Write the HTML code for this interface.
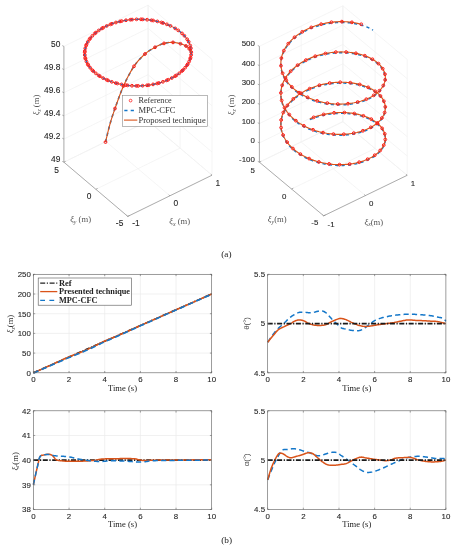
<!DOCTYPE html>
<html lang="en"><head><meta charset="utf-8"><title>Figure</title>
<style>
html,body{margin:0;padding:0;background:#fff}
svg{display:block}
.s{font-family:"Liberation Serif",serif}
</style></head><body>
<svg width="454" height="550" viewBox="0 0 454 550">
<rect width="454" height="550" fill="#fff"/>
<g font-family="Liberation Sans, sans-serif" fill="#262626" stroke="#262626" stroke-width="0">
<path d="M63.9 162.2 L148.1 121 L212 175.2 M63.9 139.04 L148.1 97.84 L212 152.04 M63.9 115.88 L148.1 74.68 L212 128.88 M63.9 92.72 L148.1 51.52 L212 105.72 M63.9 69.56 L148.1 28.36 L212 82.56 M63.9 46.4 L148.1 5.2 L212 59.4 M63.9 162.2 L63.9 46.4 M127.8 216.4 L63.9 162.2 M106 141.6 L106 25.8 M169.9 195.8 L106 141.6 M148.1 121 L148.1 5.2 M212 175.2 L148.1 121 M148.1 121 L148.1 5.2 M63.9 162.2 L148.1 121 M180.05 148.1 L180.05 32.3 M95.85 189.3 L180.05 148.1 M212 175.2 L212 59.4 M127.8 216.4 L212 175.2" fill="none" stroke="#f1f1f1" stroke-width="0.7"/>
<path d="M63.9 46.4 L63.9 162.2 L127.8 216.4 L212 175.2 M63.9 162.2 L62.3 161.4 M63.9 139.04 L62.3 138.24 M63.9 115.88 L62.3 115.08 M63.9 92.72 L62.3 91.92 M63.9 69.56 L62.3 68.76 M63.9 46.4 L62.3 45.6 M63.9 162.2 L65.7 161.3 M95.85 189.3 L97.65 188.4 M127.8 216.4 L129.6 215.5 M127.8 216.4 L126.6 215.4 M169.9 195.8 L168.7 194.8 M212 175.2 L210.8 174.2" fill="none" stroke="#858585" stroke-width="0.65"/>
<path d="M105.26 26.64 L107.51 25.58 L109.84 24.6 L112.24 23.7 L114.72 22.87 L117.26 22.13 L119.86 21.47 L122.51 20.89 L125.2 20.4 L127.92 20 L130.68 19.69 L133.45 19.47 L136.24 19.34 L139.03 19.3 L141.81 19.36 L144.59 19.5 L147.35 19.73 L150.08 20.06 L152.78 20.47 L155.44 20.97 L158.06 21.56 L160.61 22.24 L163.11 22.99 L165.53 23.83 L167.88 24.75 L170.15 25.74 L172.33 26.81 L174.42 27.95 L176.41 29.15 L178.29 30.42 L180.06 31.75 L181.72 33.14 L183.25 34.58 L184.66 36.07 L185.95 37.6 L187.1 39.18 L188.12 40.79 L189 42.44 L189.74 44.11 L190.34 45.81 L190.8 47.52 L191.11 49.25 L191.27 50.99 L191.29 52.73 L191.16 54.48 L190.89 56.21 L190.47 57.94 L189.91 59.65 L189.21 61.35 L188.37 63.02 L187.38 64.66 L186.27 66.26 L185.02 67.84 L183.64 69.36 L182.13 70.85 L180.51 72.28 L178.77 73.66 L176.92 74.98 L174.96 76.24 L172.9 77.43 L170.74 78.56 L168.49 79.62 L166.16 80.6 L163.76 81.5 L161.28 82.33 L158.74 83.07 L156.14 83.73 L153.49 84.31 L150.8 84.8 L148.08 85.2 L145.32 85.51 L142.55 85.73 L139.76 85.86 L136.97 85.9 L134.19 85.84 L131.41 85.7 L128.65 85.47 L125.92 85.14 L123.22 84.73 L120.56 84.23 L117.94 83.64 L115.39 82.96 L112.89 82.21 L110.47 81.37 L108.12 80.45 L105.85 79.46 L103.67 78.39 L101.58 77.25 L99.59 76.05 L97.71 74.78 L95.94 73.45 L94.28 72.06 L92.75 70.62 L91.34 69.13 L90.05 67.6 L88.9 66.02 L87.88 64.41 L87 62.76 L86.26 61.09 L85.66 59.39 L85.2 57.68 L84.89 55.95 L84.73 54.21 L84.71 52.47 L84.84 50.72 L85.11 48.99 L85.53 47.26 L86.09 45.55 L86.79 43.85 L87.63 42.18 L88.62 40.54 L89.73 38.94 L90.98 37.36 L92.36 35.84 L93.87 34.35 L95.49 32.92 L97.23 31.54 L99.08 30.22 L101.04 28.96 L103.1 27.77 L105.26 26.64Z" fill="none" stroke="#D95319" stroke-width="1.0"/>
<path d="M105.26 26.64 L107.51 25.58 L109.84 24.6 L112.24 23.7 L114.72 22.87 L117.26 22.13 L119.86 21.47 L122.51 20.89 L125.2 20.4 L127.92 20 L130.68 19.69 L133.45 19.47 L136.24 19.34 L139.03 19.3 L141.81 19.36 L144.59 19.5 L147.35 19.73 L150.08 20.06 L152.78 20.47 L155.44 20.97 L158.06 21.56 L160.61 22.24 L163.11 22.99 L165.53 23.83 L167.88 24.75 L170.15 25.74 L172.33 26.81 L174.42 27.95 L176.41 29.15 L178.29 30.42 L180.06 31.75 L181.72 33.14 L183.25 34.58 L184.66 36.07 L185.95 37.6 L187.1 39.18 L188.12 40.79 L189 42.44 L189.74 44.11 L190.34 45.81 L190.8 47.52 L191.11 49.25 L191.27 50.99 L191.29 52.73 L191.16 54.48 L190.89 56.21 L190.47 57.94 L189.91 59.65 L189.21 61.35 L188.37 63.02 L187.38 64.66 L186.27 66.26 L185.02 67.84 L183.64 69.36 L182.13 70.85 L180.51 72.28 L178.77 73.66 L176.92 74.98 L174.96 76.24 L172.9 77.43 L170.74 78.56 L168.49 79.62 L166.16 80.6 L163.76 81.5 L161.28 82.33 L158.74 83.07 L156.14 83.73 L153.49 84.31 L150.8 84.8 L148.08 85.2 L145.32 85.51 L142.55 85.73 L139.76 85.86 L136.97 85.9 L134.19 85.84 L131.41 85.7 L128.65 85.47 L125.92 85.14 L123.22 84.73 L120.56 84.23 L117.94 83.64 L115.39 82.96 L112.89 82.21 L110.47 81.37 L108.12 80.45 L105.85 79.46 L103.67 78.39 L101.58 77.25 L99.59 76.05 L97.71 74.78 L95.94 73.45 L94.28 72.06 L92.75 70.62 L91.34 69.13 L90.05 67.6 L88.9 66.02 L87.88 64.41 L87 62.76 L86.26 61.09 L85.66 59.39 L85.2 57.68 L84.89 55.95 L84.73 54.21 L84.71 52.47 L84.84 50.72 L85.11 48.99 L85.53 47.26 L86.09 45.55 L86.79 43.85 L87.63 42.18 L88.62 40.54 L89.73 38.94 L90.98 37.36 L92.36 35.84 L93.87 34.35 L95.49 32.92 L97.23 31.54 L99.08 30.22 L101.04 28.96 L103.1 27.77 L105.26 26.64Z" fill="none" stroke="#1477C9" stroke-width="1.4" stroke-dasharray="3.2 3.2"/>
<path d="M105.5 142.1 L105.84 140.69 L106.3 138.79 L106.84 136.52 L107.44 134.02 L108.08 131.39 L108.73 128.77 L109.38 126.26 L110 124 L110.58 121.99 L111.13 120.11 L111.68 118.3 L112.25 116.53 L112.85 114.71 L113.49 112.81 L114.2 110.75 L115 108.5 L115.88 106 L116.83 103.3 L117.84 100.45 L118.91 97.51 L120.01 94.54 L121.15 91.59 L122.32 88.73 L123.5 86 L124.71 83.35 L125.97 80.7 L127.27 78.08 L128.59 75.51 L129.94 73.02 L131.29 70.64 L132.65 68.39 L134 66.3 L135.36 64.37 L136.74 62.57 L138.13 60.9 L139.53 59.34 L140.93 57.88 L142.31 56.51 L143.67 55.22 L145 54 L146.3 52.88 L147.59 51.87 L148.87 50.95 L150.12 50.12 L151.37 49.36 L152.59 48.65 L153.8 47.97 L155 47.3 L156.17 46.66 L157.32 46.06 L158.45 45.5 L159.56 44.99 L160.67 44.53 L161.77 44.11 L162.88 43.73 L164 43.4 L165.14 43.12 L166.29 42.89 L167.44 42.71 L168.59 42.57 L169.73 42.47 L170.86 42.41 L171.95 42.39 L173 42.4 L174.02 42.45 L175.03 42.56 L176.01 42.71 L176.97 42.9 L177.9 43.11 L178.8 43.34 L179.67 43.57 L180.5 43.8 L181.3 44.03 L182.07 44.28 L182.81 44.54 L183.52 44.81 L184.19 45.1 L184.83 45.39 L185.44 45.69 L186 46 L186.52 46.31 L186.99 46.62 L187.43 46.94 L187.83 47.27 L188.2 47.62 L188.55 47.99 L188.88 48.38 L189.2 48.8 L189.5 49.29 L189.79 49.85 L190.06 50.46 L190.3 51.07 L190.52 51.67 L190.71 52.21 L190.87 52.67 L191 53" fill="none" stroke="#1477C9" stroke-width="1.6" stroke-dasharray="3.2 3.2"/>
<path d="M105.5 142.1 L105.84 140.69 L106.3 138.79 L106.84 136.52 L107.44 134.02 L108.08 131.39 L108.73 128.77 L109.38 126.26 L110 124 L110.58 121.99 L111.13 120.11 L111.68 118.3 L112.25 116.53 L112.85 114.71 L113.49 112.81 L114.2 110.75 L115 108.5 L115.88 106 L116.83 103.3 L117.84 100.45 L118.91 97.51 L120.01 94.54 L121.15 91.59 L122.32 88.73 L123.5 86 L124.71 83.35 L125.97 80.7 L127.27 78.08 L128.59 75.51 L129.94 73.02 L131.29 70.64 L132.65 68.39 L134 66.3 L135.36 64.37 L136.74 62.57 L138.13 60.9 L139.53 59.34 L140.93 57.88 L142.31 56.51 L143.67 55.22 L145 54 L146.3 52.88 L147.59 51.87 L148.87 50.95 L150.12 50.12 L151.37 49.36 L152.59 48.65 L153.8 47.97 L155 47.3 L156.17 46.66 L157.32 46.06 L158.45 45.5 L159.56 44.99 L160.67 44.53 L161.77 44.11 L162.88 43.73 L164 43.4 L165.14 43.12 L166.29 42.89 L167.44 42.71 L168.59 42.57 L169.73 42.47 L170.86 42.41 L171.95 42.39 L173 42.4 L174.02 42.45 L175.03 42.56 L176.01 42.71 L176.97 42.9 L177.9 43.11 L178.8 43.34 L179.67 43.57 L180.5 43.8 L181.3 44.03 L182.07 44.28 L182.81 44.54 L183.52 44.81 L184.19 45.1 L184.83 45.39 L185.44 45.69 L186 46 L186.52 46.31 L186.99 46.62 L187.43 46.94 L187.83 47.27 L188.2 47.62 L188.55 47.99 L188.88 48.38 L189.2 48.8 L189.5 49.29 L189.79 49.85 L190.06 50.46 L190.3 51.07 L190.52 51.67 L190.71 52.21 L190.87 52.67 L191 53" fill="none" stroke="#D95319" stroke-width="1.1"/>
<g fill="none" stroke="#FF1C1C" stroke-width="1.0">
<circle cx="190.55" cy="57.66" r="1.4"/><circle cx="187.74" cy="64.1" r="1.4"/><circle cx="182.94" cy="70.08" r="1.4"/><circle cx="176.35" cy="75.36" r="1.4"/><circle cx="168.23" cy="79.73" r="1.4"/><circle cx="158.9" cy="83.03" r="1.4"/><circle cx="148.75" cy="85.11" r="1.4"/><circle cx="138.16" cy="85.89" r="1.4"/><circle cx="127.57" cy="85.35" r="1.4"/><circle cx="117.39" cy="83.5" r="1.4"/><circle cx="108.04" cy="80.42" r="1.4"/><circle cx="99.88" cy="76.23" r="1.4"/><circle cx="93.24" cy="71.1" r="1.4"/><circle cx="88.38" cy="65.23" r="1.4"/><circle cx="85.5" cy="58.86" r="1.4"/><circle cx="84.72" cy="52.24" r="1.4"/><circle cx="86.06" cy="45.63" r="1.4"/><circle cx="89.47" cy="39.3" r="1.4"/><circle cx="94.81" cy="33.5" r="1.4"/><circle cx="101.88" cy="28.46" r="1.4"/><circle cx="110.39" cy="24.39" r="1.4"/><circle cx="119.99" cy="21.44" r="1.4"/><circle cx="130.32" cy="19.73" r="1.4"/><circle cx="140.95" cy="19.33" r="1.4"/><circle cx="151.46" cy="20.26" r="1.4"/><circle cx="161.44" cy="22.48" r="1.4"/><circle cx="170.48" cy="25.9" r="1.4"/><circle cx="178.23" cy="30.38" r="1.4"/><circle cx="184.38" cy="35.75" r="1.4"/><circle cx="188.67" cy="41.79" r="1.4"/><circle cx="190.95" cy="48.26" r="1.4"/><circle cx="191.11" cy="54.91" r="1.4"/><circle cx="189.16" cy="61.46" r="1.4"/><circle cx="185.16" cy="67.66" r="1.4"/><circle cx="179.29" cy="73.26" r="1.4"/><circle cx="171.77" cy="78.04" r="1.4"/><circle cx="162.91" cy="81.8" r="1.4"/><circle cx="153.05" cy="84.39" r="1.4"/><circle cx="142.59" cy="85.73" r="1.4"/><circle cx="131.95" cy="85.73" r="1.4"/><circle cx="121.55" cy="84.42" r="1.4"/><circle cx="111.8" cy="81.84" r="1.4"/><circle cx="103.1" cy="78.1" r="1.4"/><circle cx="95.8" cy="73.33" r="1.4"/><circle cx="90.17" cy="67.75" r="1.4"/><circle cx="86.45" cy="61.55" r="1.4"/><circle cx="84.79" cy="55" r="1.4"/><circle cx="85.24" cy="48.36" r="1.4"/><circle cx="87.8" cy="41.88" r="1.4"/><circle cx="92.37" cy="35.83" r="1.4"/><circle cx="98.75" cy="30.45" r="1.4"/><circle cx="106.69" cy="25.95" r="1.4"/><circle cx="115.89" cy="22.52" r="1.4"/><circle cx="125.96" cy="20.28" r="1.4"/><circle cx="136.52" cy="19.33" r="1.4"/><circle cx="147.13" cy="19.71" r="1.4"/><circle cx="157.38" cy="21.4" r="1.4"/><circle cx="166.86" cy="24.34" r="1.4"/><circle cx="175.19" cy="28.4" r="1.4"/><circle cx="182.03" cy="33.42" r="1.4"/><circle cx="187.12" cy="39.21" r="1.4"/><circle cx="190.25" cy="45.53" r="1.4"/><circle cx="191.3" cy="52.14" r="1.4"/><circle cx="190.22" cy="58.76" r="1.4"/><circle cx="187.06" cy="65.14" r="1.4"/><circle cx="181.95" cy="71.02" r="1.4"/><circle cx="175.08" cy="76.16" r="1.4"/><circle cx="166.74" cy="80.37" r="1.4"/><circle cx="157.24" cy="83.46" r="1.4"/><circle cx="146.99" cy="85.33" r="1.4"/><circle cx="136.37" cy="85.89" r="1.4"/><circle cx="125.82" cy="85.13" r="1.4"/><circle cx="115.75" cy="83.06" r="1.4"/><circle cx="106.57" cy="79.79" r="1.4"/><circle cx="98.65" cy="75.43" r="1.4"/><circle cx="92.29" cy="70.16" r="1.4"/><circle cx="87.75" cy="64.19" r="1.4"/><circle cx="85.22" cy="57.75" r="1.4"/><circle cx="84.79" cy="51.12" r="1.4"/><circle cx="86.49" cy="44.54" r="1.4"/><circle cx="90.24" cy="38.28" r="1.4"/><circle cx="95.89" cy="32.59" r="1.4"/><circle cx="103.22" cy="27.7" r="1.4"/><circle cx="111.93" cy="23.81" r="1.4"/><circle cx="121.69" cy="21.06" r="1.4"/><circle cx="132.1" cy="19.57" r="1.4"/><circle cx="142.74" cy="19.39" r="1.4"/><circle cx="153.19" cy="20.54" r="1.4"/><circle cx="163.04" cy="22.97" r="1.4"/>
</g>
<g fill="none" stroke="#FF1C1C" stroke-width="1.0">
<circle cx="105.5" cy="142.1" r="1.4"/><circle cx="115" cy="108.5" r="1.4"/><circle cx="123.5" cy="86" r="1.4"/><circle cx="134" cy="66.3" r="1.4"/><circle cx="145" cy="54" r="1.4"/><circle cx="155" cy="47.3" r="1.4"/><circle cx="164" cy="43.4" r="1.4"/><circle cx="173" cy="42.4" r="1.4"/><circle cx="180.5" cy="43.8" r="1.4"/><circle cx="186" cy="46" r="1.4"/><circle cx="189.2" cy="48.8" r="1.4"/>
</g>
<text x="60.3" y="161.9" text-anchor="end" font-size="8.4" stroke-width="0.1" >49</text>
<text x="60.3" y="138.9" text-anchor="end" font-size="8.4" stroke-width="0.1" >49.2</text>
<text x="60.3" y="115.9" text-anchor="end" font-size="8.4" stroke-width="0.1" >49.4</text>
<text x="60.3" y="92.9" text-anchor="end" font-size="8.4" stroke-width="0.1" >49.6</text>
<text x="60.3" y="69.9" text-anchor="end" font-size="8.4" stroke-width="0.1" >49.8</text>
<text x="60.3" y="46.9" text-anchor="end" font-size="8.4" stroke-width="0.1" >50</text>
<text x="58.8" y="173.2" text-anchor="end" font-size="8.4" stroke-width="0.1" >5</text>
<text x="91.3" y="199.2" text-anchor="end" font-size="8.4" stroke-width="0.1" >0</text>
<text x="123.3" y="225.5" text-anchor="end" font-size="8.4" stroke-width="0.1" >-5</text>
<text x="132.3" y="226.3" text-anchor="start" font-size="8.4" stroke-width="0.1" >-1</text>
<text x="173.5" y="206.2" text-anchor="start" font-size="8.4" stroke-width="0.1" >0</text>
<text x="215.6" y="186.3" text-anchor="start" font-size="8.4" stroke-width="0.1" >1</text>
<text class="s" x="39.4" y="105" text-anchor="middle" font-size="8.6" fill="#555" transform="rotate(-90 39.4 105)"><tspan font-style="italic">ξ</tspan><tspan font-style="italic" font-size="5.85" dy="1.6">z</tspan><tspan dy="-1.6"> (m)</tspan></text>
<text class="s" x="80.6" y="222" text-anchor="middle" font-size="8.6" fill="#555"><tspan font-style="italic">ξ</tspan><tspan font-style="italic" font-size="5.85" dy="1.6">y</tspan><tspan dy="-1.6"> (m)</tspan></text>
<text class="s" x="179.7" y="224" text-anchor="middle" font-size="8.6" fill="#555"><tspan font-style="italic">ξ</tspan><tspan font-style="italic" font-size="5.85" dy="1.6">x</tspan><tspan dy="-1.6"> (m)</tspan></text>
<rect x="122.3" y="95.5" width="85.2" height="30.8" fill="#fff" stroke="#8a8a8a" stroke-width="0.6"/>
<circle cx="130.6" cy="100.6" r="1.35" fill="none" stroke="#FF1C1C" stroke-width="0.8"/>
<path d="M124.3 110.4H137" stroke="#1477C9" stroke-width="1.5" stroke-dasharray="3.2 3.2" fill="none"/>
<path d="M124 120.1H137.3" stroke="#D95319" stroke-width="1.1" fill="none"/>
<text class="s" x="138.4" y="103.3" text-anchor="start" font-size="8.4" textLength="33.4" lengthAdjust="spacingAndGlyphs" fill="#333">Reference</text>
<text class="s" x="138.4" y="113.1" text-anchor="start" font-size="8.4" textLength="37" lengthAdjust="spacingAndGlyphs" fill="#333">MPC-CFC</text>
<text class="s" x="138.4" y="122.7" text-anchor="start" font-size="8.4" textLength="67.3" lengthAdjust="spacingAndGlyphs" fill="#333">Proposed technique</text>
<path d="M259.4 162.2 L342.9 121.7 L407.2 175.3 M259.4 142.88 L342.9 102.38 L407.2 155.98 M259.4 123.57 L342.9 83.07 L407.2 136.67 M259.4 104.25 L342.9 63.75 L407.2 117.35 M259.4 84.93 L342.9 44.43 L407.2 98.03 M259.4 65.62 L342.9 25.12 L407.2 78.72 M259.4 46.3 L342.9 5.8 L407.2 59.4 M259.4 162.2 L259.4 46.3 M323.7 215.8 L259.4 162.2 M301.15 141.95 L301.15 26.05 M365.45 195.55 L301.15 141.95 M342.9 121.7 L342.9 5.8 M407.2 175.3 L342.9 121.7 M342.9 121.7 L342.9 5.8 M259.4 162.2 L342.9 121.7 M375.05 148.5 L375.05 32.6 M291.55 189 L375.05 148.5 M407.2 175.3 L407.2 59.4 M323.7 215.8 L407.2 175.3" fill="none" stroke="#f1f1f1" stroke-width="0.7"/>
<path d="M259.4 46.3 L259.4 162.2 L323.7 215.8 L407.2 175.3 M259.4 162.2 L257.8 161.4 M259.4 142.88 L257.8 142.08 M259.4 123.57 L257.8 122.77 M259.4 104.25 L257.8 103.45 M259.4 84.93 L257.8 84.13 M259.4 65.62 L257.8 64.82 M259.4 46.3 L257.8 45.5 M259.4 162.2 L261.2 161.3 M291.55 189 L293.35 188.1 M323.7 215.8 L325.5 214.9 M323.7 215.8 L322.5 214.8 M365.45 195.55 L364.25 194.55 M407.2 175.3 L406 174.3" fill="none" stroke="#858585" stroke-width="0.65"/>
<path d="M309.84 119.67 L311.2 119.1 L312.58 118.56 L313.98 118.04 L315.39 117.55 L316.81 117.08 L318.25 116.64 L319.7 116.23 L321.17 115.84 L322.64 115.48 L324.12 115.15 L325.61 114.85 L327.11 114.57 L328.61 114.32 L330.11 114.1 L331.62 113.9 L333.13 113.73 L334.63 113.59 L336.14 113.48 L337.64 113.4 L339.14 113.34 L340.64 113.31 L342.13 113.31 L343.61 113.34 L345.08 113.39 L346.54 113.47 L348 113.58 L349.43 113.71 L350.86 113.87 L352.27 114.06 L353.66 114.27 L355.04 114.51 L356.4 114.78 L357.74 115.07 L359.06 115.38 L360.36 115.72 L361.63 116.08 L362.88 116.46 L364.11 116.87 L365.31 117.3 L366.48 117.76 L367.63 118.23 L368.75 118.73 L369.83 119.24 L370.89 119.78 L371.92 120.33 L372.91 120.91 L373.87 121.5 L374.79 122.11 L375.68 122.74 L376.54 123.38 L377.36 124.04 L378.14 124.72 L378.89 125.41 L379.59 126.11 L380.26 126.83 L380.89 127.56 L381.48 128.3 L382.03 129.05 L382.53 129.81 L383 130.58 L383.43 131.36 L383.81 132.14 L384.15 132.94 L384.45 133.74 L384.7 134.54 L384.92 135.35 L385.08 136.17 L385.21 136.98 L385.29 137.8 L385.33 138.63 L385.33 139.45 L385.28 140.27 L385.19 141.09 L385.05 141.91 L384.87 142.73 L384.65 143.54 L384.39 144.35 L384.08 145.15 L383.73 145.95 L383.34 146.75 L382.9 147.53 L382.43 148.31 L381.91 149.08 L381.36 149.84 L380.76 150.59 L380.12 151.33 L379.45 152.05 L378.73 152.77 L377.98 153.47 L377.19 154.15 L376.36 154.83 L375.5 155.48 L374.6 156.12 L373.67 156.75 L372.7 157.36 L371.7 157.95 L370.67 158.52 L369.6 159.07 L368.51 159.61 L367.39 160.12 L366.24 160.61 L365.06 161.08 L363.85 161.53 L362.62 161.96 L361.36 162.36 L360.08 162.74 L358.78 163.1 L357.46 163.44 L356.11 163.75 L354.75 164.03 L353.37 164.29 L351.97 164.53 L350.56 164.73 L349.13 164.92 L347.69 165.07 L346.23 165.2 L344.77 165.31 L343.29 165.38 L341.81 165.43 L340.32 165.45 L338.82 165.45 L337.32 165.42 L335.82 165.35 L334.31 165.27 L332.8 165.15 L331.29 165.01 L329.79 164.83 L328.29 164.64 L326.79 164.41 L325.29 164.15 L323.8 163.87 L322.32 163.56 L320.85 163.23 L319.39 162.86 L317.94 162.47 L316.51 162.05 L315.08 161.61 L313.68 161.14 L312.28 160.64 L310.91 160.12 L309.55 159.58 L308.22 159 L306.9 158.41 L305.61 157.79 L304.34 157.14 L303.09 156.47 L301.87 155.78 L300.68 155.07 L299.51 154.34 L298.37 153.58 L297.25 152.8 L296.17 152 L295.12 151.18 L294.1 150.35 L293.12 149.49 L292.16 148.62 L291.24 147.72 L290.36 146.81 L289.51 145.89 L288.7 144.95 L287.92 143.99 L287.18 143.02 L286.48 142.04 L285.82 141.04 L285.2 140.03 L284.62 139.01 L284.08 137.98 L283.58 136.94 L283.12 135.89 L282.7 134.83 L282.33 133.77 L281.99 132.69 L281.7 131.61 L281.46 130.53 L281.25 129.44 L281.09 128.35 L280.97 127.25 L280.9 126.15 L280.87 125.05 L280.88 123.95 L280.93 122.85 L281.03 121.75 L281.18 120.65 L281.36 119.56 L281.59 118.47 L281.87 117.38 L282.18 116.3 L282.54 115.22 L282.94 114.15 L283.38 113.09 L283.86 112.04 L284.38 110.99 L284.95 109.95 L285.55 108.93 L286.2 107.91 L286.88 106.91 L287.6 105.92 L288.36 104.94 L289.16 103.98 L289.99 103.03 L290.86 102.1 L291.77 101.18 L292.71 100.28 L293.68 99.4 L294.68 98.54 L295.72 97.69 L296.79 96.86 L297.89 96.05 L299.02 95.27 L300.18 94.5 L301.36 93.75 L302.57 93.03 L303.81 92.33 L305.07 91.65 L306.35 90.99 L307.66 90.36 L308.99 89.75 L310.33 89.17 L311.7 88.61 L313.08 88.08 L314.48 87.57 L315.9 87.09 L317.33 86.63 L318.78 86.2 L320.23 85.8 L321.7 85.42 L323.17 85.07 L324.66 84.75 L326.15 84.45 L327.65 84.18 L329.15 83.94 L330.65 83.73 L332.16 83.55 L333.67 83.39 L335.18 83.26 L336.68 83.16 L338.19 83.08 L339.68 83.04 L341.18 83.02 L342.66 83.03 L344.14 83.06 L345.61 83.13 L347.07 83.22 L348.52 83.33 L349.95 83.48 L351.37 83.65 L352.78 83.84 L354.16 84.07 L355.54 84.31 L356.89 84.59 L358.22 84.89 L359.53 85.21 L360.82 85.55 L362.09 85.92 L363.33 86.32 L364.55 86.74 L365.74 87.17 L366.9 87.63 L368.04 88.12 L369.14 88.62 L370.22 89.14 L371.26 89.69 L372.28 90.25 L373.26 90.83 L374.21 91.43 L375.12 92.05 L376 92.68 L376.84 93.33 L377.65 94 L378.42 94.68 L379.15 95.37 L379.84 96.08 L380.49 96.8 L381.11 97.53 L381.68 98.28 L382.21 99.03 L382.71 99.79 L383.16 100.57 L383.57 101.35 L383.94 102.14 L384.26 102.94 L384.54 103.74 L384.78 104.54 L384.98 105.36 L385.13 106.17 L385.24 106.99 L385.31 107.81 L385.33 108.63 L385.31 109.45 L385.25 110.28 L385.14 111.1 L384.99 111.92 L384.8 112.73 L384.56 113.54 L384.28 114.35 L383.96 115.15 L383.59 115.95 L383.19 116.74 L382.74 117.52 L382.25 118.3 L381.72 119.06 L381.14 119.82 L380.53 120.56 L379.88 121.3 L379.19 122.02 L378.46 122.73 L377.7 123.43 L376.89 124.11 L376.05 124.78 L375.18 125.43 L374.27 126.06 L373.32 126.68 L372.34 127.28 L371.33 127.87 L370.29 128.43 L369.21 128.98 L368.11 129.5 L366.97 130.01 L365.81 130.49 L364.62 130.96 L363.41 131.4 L362.17 131.82 L360.9 132.21 L359.61 132.59 L358.3 132.94 L356.97 133.26 L355.62 133.56 L354.25 133.84 L352.86 134.09 L351.46 134.31 L350.04 134.51 L348.61 134.69 L347.16 134.83 L345.7 134.95 L344.24 135.05 L342.76 135.11 L341.27 135.15 L339.78 135.17 L338.28 135.15 L336.78 135.11 L335.27 135.04 L333.77 134.94 L332.26 134.81 L330.75 134.66 L329.24 134.48 L327.74 134.27 L326.25 134.03 L324.75 133.76 L323.27 133.47 L321.79 133.15 L320.32 132.81 L318.87 132.43 L317.42 132.03 L315.99 131.61 L314.57 131.15 L313.17 130.67 L311.79 130.17 L310.42 129.64 L309.07 129.08 L307.74 128.5 L306.43 127.9 L305.15 127.27 L303.89 126.61 L302.65 125.94 L301.44 125.24 L300.25 124.52 L299.09 123.77 L297.96 123.01 L296.86 122.22 L295.79 121.42 L294.75 120.59 L293.74 119.75 L292.77 118.89 L291.83 118.01 L290.92 117.11 L290.05 116.19 L289.21 115.26 L288.41 114.31 L287.65 113.35 L286.93 112.38 L286.24 111.39 L285.59 110.39 L284.99 109.38 L284.42 108.35 L283.89 107.32 L283.41 106.27 L282.96 105.22 L282.56 104.16 L282.2 103.09 L281.88 102.01 L281.61 100.93 L281.38 99.84 L281.19 98.75 L281.04 97.66 L280.94 96.56 L280.88 95.46 L280.87 94.36 L280.89 93.26 L280.97 92.16 L281.08 91.06 L281.24 89.97 L281.44 88.87 L281.69 87.78 L281.97 86.7 L282.3 85.62 L282.68 84.54 L283.09 83.48 L283.55 82.42 L284.05 81.37 L284.58 80.32 L285.16 79.29 L285.78 78.27 L286.44 77.26 L287.14 76.26 L287.87 75.28 L288.65 74.3 L289.46 73.35 L290.3 72.4 L291.19 71.48 L292.1 70.57 L293.05 69.67 L294.04 68.8 L295.06 67.94 L296.11 67.1 L297.19 66.28 L298.29 65.48 L299.43 64.7 L300.6 63.94 L301.79 63.2 L303.01 62.48 L304.26 61.79 L305.53 61.12 L306.82 60.47 L308.13 59.85 L309.47 59.25 L310.82 58.67 L312.2 58.12 L313.59 57.6 L314.99 57.1 L316.42 56.63 L317.85 56.18 L319.3 55.76 L320.76 55.37 L322.23 55 L323.71 54.66 L325.2 54.35 L326.69 54.06 L328.19 53.8 L329.69 53.57 L331.2 53.37 L332.71 53.2 L334.21 53.05 L335.72 52.93 L337.23 52.84 L338.73 52.77 L340.22 52.74 L341.72 52.73 L343.2 52.75 L344.67 52.79 L346.14 52.87 L347.59 52.97 L349.04 53.09 L350.47 53.25 L351.88 53.43 L353.28 53.63 L354.66 53.86 L356.03 54.12 L357.37 54.4 L358.7 54.71 L360 55.04 L361.28 55.4 L362.54 55.77 L363.77 56.18 L364.98 56.6 L366.16 57.05 L367.32 57.52 L368.44 58.01 L369.54 58.52 L370.6 59.05 L371.64 59.6 L372.64 60.17 L373.61 60.76 L374.54 61.36 L375.44 61.98 L376.31 62.62 L377.14 63.28 L377.93 63.95 L378.68 64.64 L379.4 65.33 L380.08 66.05 L380.72 66.77 L381.32 67.51 L381.88 68.26 L382.4 69.02 L382.88 69.78 L383.31 70.56 L383.71 71.34 L384.06 72.14 L384.37 72.93 L384.64 73.74 L384.86 74.55 L385.04 75.36 L385.18 76.18 L385.27 77 L385.32 77.82 L385.33 78.64 L385.3 79.46 L385.22 80.28 L385.09 81.1 L384.93 81.92 L384.72 82.73 L384.46 83.55 L384.17 84.35 L383.83 85.15 L383.45 85.95 L383.03 86.73 L382.57 87.51 L382.06 88.29 L381.51 89.05 L380.93 89.8 L380.3 90.54 L379.64 91.27 L378.93 91.99 L378.19 92.69 L377.41 93.38 L376.59 94.06 L375.74 94.72 L374.85 95.37 L373.93 96 L372.97 96.61 L371.98 97.21 L370.96 97.78 L369.9 98.34 L368.82 98.88 L367.7 99.4 L366.56 99.9 L365.39 100.37 L364.19 100.83 L362.96 101.26 L361.71 101.67 L360.44 102.06 L359.14 102.43 L357.83 102.77 L356.49 103.08 L355.13 103.37 L353.75 103.64 L352.36 103.88 L350.95 104.1 L349.52 104.29 L348.09 104.45 L346.64 104.59 L345.17 104.7 L343.7 104.78 L342.22 104.84 L340.73 104.87 L339.24 104.87 L337.74 104.85 L336.23 104.79 L334.73 104.71 L333.22 104.6 L331.71 104.47 L330.21 104.3 L328.7 104.11 L327.2 103.89 L325.71 103.65 L324.22 103.37 L322.73 103.07 L321.26 102.74 L319.8 102.38 L318.34 102 L316.9 101.59 L315.48 101.16 L314.07 100.69 L312.67 100.2 L311.29 99.69 L309.93 99.15 L308.59 98.58 L307.27 97.99 L305.97 97.38 L304.69 96.74 L303.44 96.08 L302.21 95.4 L301 94.69 L299.83 93.96 L298.68 93.21 L297.56 92.44 L296.47 91.65 L295.41 90.83 L294.38 90 L293.39 89.15 L292.42 88.28 L291.49 87.39 L290.6 86.49 L289.74 85.57 L288.92 84.63 L288.13 83.68 L287.38 82.71 L286.67 81.73 L286 80.74 L285.37 79.73 L284.78 78.72 L284.22 77.69 L283.71 76.65 L283.24 75.6 L282.81 74.55 L282.43 73.48 L282.08 72.41 L281.78 71.33 L281.52 70.25 L281.3 69.16 L281.13 68.07 L281 66.97 L280.91 65.87 L280.87 64.78 L280.87 63.68 L280.92 62.57 L281 61.48 L281.13 60.38 L281.31 59.28 L281.53 58.19 L281.79 57.1 L282.09 56.02 L282.43 54.94 L282.82 53.87 L283.25 52.8 L283.72 51.75 L284.24 50.7 L284.79 49.66 L285.38 48.63 L286.02 47.61 L286.69 46.61 L287.4 45.61 L288.15 44.63 L288.93 43.67 L289.76 42.71 L290.62 41.78 L291.51 40.86 L292.44 39.95 L293.41 39.06 L294.4 38.19 L295.43 37.34 L296.49 36.51 L297.58 35.69 L298.7 34.9 L299.85 34.13 L301.03 33.38 L302.23 32.65 L303.46 31.94 L304.72 31.25 L305.99 30.59 L307.29 29.95 L308.62 29.34 L309.96 28.75 L311.32 28.18 L312.7 27.64 L314.09 27.13 L315.51 26.64 L316.93 26.17 L318.37 25.74 L319.83 25.33 L321.29 24.94 L322.76 24.58 L324.25 24.25 L325.74 23.95 L327.23 23.68 L328.73 23.43 L330.24 23.21 L331.74 23.01 L333.25 22.85 L334.76 22.71 L336.27 22.6 L337.77 22.52 L339.27 22.47 L340.76 22.44 L342.25 22.44 L343.73 22.47 L345.21 22.53 L346.67 22.61 L348.12 22.72 L349.56 22.86 L350.98 23.02 L352.39 23.21 L353.78 23.42 L355.16 23.66 L356.52 23.93 L357.85 24.22 L359.17 24.54 L360.47 24.88 L361.74 25.24 L362.99 25.63 L364.21 26.04 L365.41 26.47 L366.58 26.92 L367.73 27.4 L368.84 27.9 L369.92 28.42 L370.98 28.95 L372 29.51 L372.99 30.09" fill="none" stroke="#1477C9" stroke-width="1.5" stroke-dasharray="3.2 3.2"/>
<path d="M309.84 118.87 L311.18 118.31 L312.54 117.77 L313.91 117.26 L315.3 116.78 L316.71 116.32 L318.12 115.88 L319.55 115.47 L320.99 115.09 L322.44 114.73 L323.9 114.4 L325.37 114.09 L326.84 113.82 L328.32 113.56 L329.8 113.34 L331.28 113.14 L332.77 112.97 L334.25 112.83 L335.74 112.71 L337.22 112.62 L338.7 112.56 L340.17 112.52 L341.64 112.51 L343.1 112.53 L344.56 112.57 L346 112.64 L347.44 112.73 L348.86 112.86 L350.27 113 L351.66 113.18 L353.04 113.38 L354.41 113.6 L355.76 113.85 L357.09 114.12 L358.4 114.42 L359.69 114.74 L360.95 115.08 L362.2 115.45 L363.42 115.84 L364.62 116.25 L365.79 116.68 L366.93 117.14 L368.05 117.61 L369.14 118.11 L370.2 118.63 L371.23 119.16 L372.23 119.71 L373.2 120.29 L374.14 120.88 L375.04 121.48 L375.91 122.1 L376.74 122.74 L377.54 123.4 L378.3 124.06 L379.03 124.75 L379.72 125.44 L380.37 126.15 L380.98 126.87 L381.56 127.6 L382.09 128.34 L382.59 129.09 L383.04 129.85 L383.46 130.62 L383.83 131.39 L384.16 132.18 L384.46 132.96 L384.71 133.76 L384.92 134.56 L385.08 135.36 L385.21 136.16 L385.29 136.97 L385.33 137.78 L385.33 138.59 L385.28 139.4 L385.2 140.21 L385.07 141.02 L384.9 141.82 L384.69 142.62 L384.43 143.42 L384.14 144.21 L383.8 145 L383.42 145.79 L383 146.56 L382.54 147.33 L382.05 148.09 L381.51 148.84 L380.93 149.58 L380.31 150.31 L379.66 151.03 L378.97 151.74 L378.24 152.43 L377.47 153.11 L376.67 153.78 L375.83 154.43 L374.96 155.07 L374.05 155.69 L373.12 156.3 L372.15 156.89 L371.14 157.46 L370.11 158.01 L369.05 158.55 L367.95 159.06 L366.83 159.56 L365.69 160.03 L364.51 160.49 L363.31 160.92 L362.09 161.33 L360.84 161.72 L359.57 162.09 L358.28 162.43 L356.97 162.75 L355.64 163.05 L354.29 163.32 L352.92 163.57 L351.54 163.79 L350.14 163.99 L348.73 164.16 L347.31 164.31 L345.87 164.43 L344.43 164.53 L342.97 164.6 L341.51 164.64 L340.04 164.66 L338.57 164.64 L337.09 164.61 L335.6 164.54 L334.12 164.45 L332.63 164.34 L331.15 164.19 L329.66 164.02 L328.18 163.82 L326.71 163.6 L325.24 163.34 L323.77 163.06 L322.31 162.76 L320.86 162.43 L319.42 162.07 L318 161.69 L316.58 161.28 L315.18 160.84 L313.79 160.38 L312.42 159.89 L311.06 159.38 L309.72 158.85 L308.41 158.29 L307.11 157.7 L305.83 157.09 L304.57 156.46 L303.34 155.81 L302.13 155.13 L300.95 154.44 L299.79 153.72 L298.66 152.98 L297.56 152.22 L296.48 151.44 L295.44 150.64 L294.42 149.82 L293.44 148.98 L292.49 148.12 L291.57 147.25 L290.69 146.36 L289.84 145.46 L289.02 144.53 L288.24 143.6 L287.5 142.65 L286.8 141.69 L286.13 140.71 L285.5 139.72 L284.9 138.72 L284.35 137.71 L283.84 136.69 L283.36 135.66 L282.93 134.62 L282.54 133.58 L282.18 132.52 L281.87 131.46 L281.6 130.4 L281.38 129.33 L281.19 128.25 L281.05 127.17 L280.94 126.09 L280.88 125.01 L280.87 123.93 L280.89 122.84 L280.96 121.76 L281.07 120.68 L281.22 119.6 L281.41 118.52 L281.65 117.44 L281.92 116.37 L282.24 115.31 L282.6 114.25 L283 113.2 L283.44 112.15 L283.92 111.11 L284.44 110.08 L285 109.07 L285.6 108.06 L286.24 107.06 L286.91 106.07 L287.62 105.09 L288.37 104.13 L289.16 103.18 L289.98 102.25 L290.83 101.33 L291.72 100.43 L292.65 99.54 L293.6 98.67 L294.59 97.81 L295.61 96.98 L296.66 96.16 L297.74 95.36 L298.85 94.58 L299.98 93.83 L301.14 93.09 L302.33 92.37 L303.54 91.67 L304.78 91 L306.04 90.35 L307.32 89.72 L308.62 89.12 L309.95 88.53 L311.29 87.98 L312.65 87.44 L314.02 86.93 L315.41 86.45 L316.82 85.99 L318.23 85.56 L319.66 85.15 L321.1 84.77 L322.55 84.41 L324.01 84.08 L325.48 83.78 L326.95 83.5 L328.43 83.26 L329.91 83.03 L331.4 82.84 L332.88 82.67 L334.37 82.53 L335.85 82.41 L337.33 82.32 L338.81 82.26 L340.29 82.23 L341.75 82.22 L343.22 82.24 L344.67 82.28 L346.11 82.35 L347.55 82.45 L348.97 82.58 L350.38 82.73 L351.77 82.9 L353.15 83.1 L354.51 83.33 L355.86 83.58 L357.19 83.85 L358.5 84.15 L359.78 84.47 L361.05 84.82 L362.29 85.19 L363.51 85.58 L364.71 85.99 L365.88 86.43 L367.02 86.88 L368.14 87.36 L369.23 87.86 L370.28 88.38 L371.31 88.91 L372.31 89.47 L373.27 90.04 L374.21 90.63 L375.11 91.24 L375.97 91.86 L376.8 92.5 L377.6 93.16 L378.36 93.83 L379.08 94.51 L379.77 95.2 L380.42 95.91 L381.03 96.63 L381.6 97.36 L382.13 98.11 L382.62 98.86 L383.08 99.62 L383.49 100.39 L383.86 101.16 L384.19 101.95 L384.48 102.73 L384.72 103.53 L384.93 104.33 L385.09 105.13 L385.22 105.94 L385.29 106.74 L385.33 107.55 L385.33 108.36 L385.28 109.17 L385.19 109.98 L385.06 110.79 L384.88 111.59 L384.67 112.39 L384.41 113.19 L384.11 113.99 L383.77 114.77 L383.39 115.56 L382.97 116.33 L382.51 117.1 L382.01 117.86 L381.46 118.61 L380.88 119.35 L380.26 120.08 L379.61 120.79 L378.91 121.5 L378.18 122.19 L377.41 122.87 L376.61 123.54 L375.77 124.19 L374.89 124.83 L373.98 125.45 L373.04 126.06 L372.07 126.64 L371.06 127.21 L370.03 127.77 L368.96 128.3 L367.87 128.81 L366.75 129.31 L365.6 129.78 L364.42 130.23 L363.22 130.66 L361.99 131.07 L360.74 131.46 L359.47 131.83 L358.18 132.17 L356.87 132.49 L355.53 132.78 L354.18 133.05 L352.82 133.3 L351.43 133.52 L350.03 133.71 L348.62 133.89 L347.2 134.03 L345.76 134.15 L344.32 134.24 L342.86 134.31 L341.4 134.35 L339.93 134.37 L338.45 134.35 L336.97 134.31 L335.49 134.25 L334 134.15 L332.52 134.04 L331.03 133.89 L329.55 133.71 L328.07 133.51 L326.59 133.29 L325.12 133.03 L323.66 132.75 L322.2 132.44 L320.75 132.11 L319.31 131.75 L317.89 131.36 L316.47 130.95 L315.07 130.52 L313.68 130.05 L312.31 129.56 L310.96 129.05 L309.62 128.51 L308.3 127.95 L307.01 127.37 L305.73 126.76 L304.48 126.12 L303.25 125.47 L302.04 124.79 L300.86 124.09 L299.7 123.37 L298.57 122.63 L297.47 121.87 L296.4 121.08 L295.36 120.28 L294.35 119.46 L293.37 118.62 L292.42 117.77 L291.5 116.89 L290.62 116 L289.77 115.09 L288.96 114.17 L288.19 113.24 L287.45 112.29 L286.74 111.32 L286.08 110.34 L285.45 109.35 L284.86 108.35 L284.31 107.34 L283.8 106.32 L283.33 105.29 L282.9 104.25 L282.51 103.21 L282.16 102.15 L281.85 101.09 L281.58 100.02 L281.36 98.95 L281.18 97.88 L281.04 96.8 L280.94 95.72 L280.88 94.64 L280.87 93.55 L280.89 92.47 L280.96 91.39 L281.08 90.3 L281.23 89.22 L281.43 88.15 L281.67 87.07 L281.94 86 L282.27 84.94 L282.63 83.88 L283.03 82.83 L283.47 81.78 L283.96 80.74 L284.48 79.72 L285.04 78.7 L285.65 77.69 L286.29 76.69 L286.96 75.7 L287.68 74.73 L288.43 73.77 L289.22 72.82 L290.04 71.89 L290.9 70.97 L291.79 70.07 L292.72 69.18 L293.68 68.31 L294.67 67.46 L295.69 66.62 L296.74 65.81 L297.82 65.01 L298.93 64.23 L300.07 63.48 L301.23 62.74 L302.42 62.02 L303.64 61.33 L304.88 60.66 L306.14 60.01 L307.42 59.38 L308.73 58.78 L310.05 58.2 L311.39 57.64 L312.75 57.11 L314.13 56.61 L315.52 56.12 L316.92 55.67 L318.34 55.24 L319.77 54.83 L321.22 54.45 L322.67 54.1 L324.13 53.77 L325.59 53.47 L327.07 53.19 L328.54 52.95 L330.03 52.73 L331.51 52.53 L333 52.37 L334.48 52.23 L335.97 52.11 L337.45 52.03 L338.93 51.97 L340.4 51.94 L341.87 51.93 L343.33 51.95 L344.78 52 L346.22 52.07 L347.66 52.17 L349.08 52.3 L350.48 52.45 L351.88 52.63 L353.26 52.83 L354.62 53.06 L355.96 53.31 L357.29 53.58 L358.6 53.88 L359.88 54.21 L361.15 54.56 L362.39 54.93 L363.61 55.32 L364.8 55.74 L365.97 56.17 L367.11 56.63 L368.22 57.11 L369.31 57.61 L370.36 58.13 L371.39 58.66 L372.38 59.22 L373.35 59.8 L374.28 60.39 L375.18 61 L376.04 61.62 L376.87 62.26 L377.66 62.92 L378.42 63.59 L379.14 64.27 L379.82 64.97 L380.47 65.68 L381.07 66.4 L381.64 67.13 L382.17 67.87 L382.66 68.63 L383.11 69.39 L383.52 70.16 L383.89 70.93 L384.21 71.72 L384.5 72.51 L384.74 73.3 L384.94 74.1 L385.1 74.9 L385.22 75.71 L385.3 76.52 L385.33 77.32 L385.32 78.13 L385.27 78.94 L385.18 79.75 L385.05 80.56 L384.87 81.36 L384.65 82.17 L384.39 82.96 L384.09 83.76 L383.74 84.54 L383.36 85.32 L382.93 86.1 L382.47 86.87 L381.96 87.62 L381.42 88.37 L380.84 89.11 L380.21 89.84 L379.55 90.56 L378.86 91.26 L378.12 91.96 L377.35 92.64 L376.54 93.3 L375.7 93.95 L374.82 94.59 L373.91 95.21 L372.97 95.81 L371.99 96.4 L370.99 96.97 L369.95 97.52 L368.88 98.05 L367.78 98.56 L366.66 99.05 L365.51 99.53 L364.33 99.98 L363.13 100.41 L361.9 100.81 L360.65 101.2 L359.37 101.56 L358.08 101.9 L356.76 102.22 L355.43 102.51 L354.08 102.78 L352.71 103.02 L351.33 103.24 L349.93 103.44 L348.51 103.61 L347.09 103.75 L345.65 103.87 L344.2 103.96 L342.75 104.02 L341.28 104.06 L339.81 104.08 L338.34 104.06 L336.86 104.02 L335.37 103.95 L333.89 103.86 L332.4 103.73 L330.92 103.59 L329.44 103.41 L327.96 103.21 L326.48 102.98 L325.01 102.72 L323.55 102.44 L322.09 102.13 L320.64 101.79 L319.2 101.43 L317.78 101.04 L316.36 100.63 L314.96 100.19 L313.58 99.73 L312.21 99.24 L310.85 98.72 L309.52 98.18 L308.2 97.62 L306.91 97.03 L305.63 96.42 L304.38 95.78 L303.15 95.13 L301.95 94.45 L300.77 93.75 L299.61 93.02 L298.49 92.28 L297.39 91.52 L296.32 90.73 L295.28 89.93 L294.27 89.11 L293.29 88.27 L292.35 87.41 L291.43 86.53 L290.56 85.64 L289.71 84.73 L288.9 83.81 L288.13 82.87 L287.39 81.92 L286.69 80.96 L286.03 79.98 L285.4 78.99 L284.82 77.99 L284.27 76.97 L283.76 75.95 L283.29 74.92 L282.87 73.88 L282.48 72.83 L282.13 71.78 L281.83 70.72 L281.57 69.65 L281.34 68.58 L281.16 67.51 L281.03 66.43 L280.93 65.35 L280.88 64.26 L280.87 63.18 L280.9 62.1 L280.97 61.01 L281.09 59.93 L281.24 58.85 L281.44 57.77 L281.69 56.7 L281.97 55.63 L282.29 54.57 L282.66 53.51 L283.06 52.45 L283.51 51.41 L284 50.37 L284.52 49.35 L285.09 48.33 L285.69 47.32 L286.34 46.32 L287.02 45.34 L287.74 44.37 L288.49 43.41 L289.28 42.46 L290.11 41.53 L290.97 40.61 L291.86 39.71 L292.79 38.82 L293.75 37.95 L294.75 37.1 L295.77 36.27 L296.82 35.46 L297.91 34.66 L299.02 33.89 L300.16 33.13 L301.32 32.39 L302.52 31.68 L303.73 30.99 L304.97 30.32 L306.24 29.67 L307.52 29.05 L308.83 28.44 L310.15 27.87 L311.5 27.31 L312.86 26.78 L314.23 26.28 L315.63 25.8 L317.03 25.34 L318.45 24.91 L319.89 24.51 L321.33 24.13 L322.78 23.78 L324.24 23.46 L325.71 23.16 L327.18 22.88 L328.66 22.64 L330.14 22.42 L331.62 22.23 L333.11 22.06 L334.6 21.93 L336.08 21.82 L337.56 21.73 L339.04 21.67 L340.51 21.64 L341.98 21.64 L343.44 21.66 L344.89 21.71 L346.33 21.79 L347.77 21.89 L349.19 22.02 L350.59 22.17 L351.99 22.35 L353.36 22.55 L354.72 22.78 L356.07 23.04 L357.39 23.32 L358.7 23.62 L359.98 23.95 L361.24 24.29" fill="none" stroke="#D95319" stroke-width="1.15"/>
<g fill="none" stroke="#FF1C1C" stroke-width="1.0">
<circle cx="313.66" cy="117.36" r="1.4"/><circle cx="323.67" cy="114.45" r="1.4"/><circle cx="334.07" cy="112.84" r="1.4"/><circle cx="344.43" cy="112.56" r="1.4"/><circle cx="354.33" cy="113.59" r="1.4"/><circle cx="363.39" cy="115.83" r="1.4"/><circle cx="371.24" cy="119.16" r="1.4"/><circle cx="377.57" cy="123.42" r="1.4"/><circle cx="382.13" cy="128.39" r="1.4"/><circle cx="384.73" cy="133.84" r="1.4"/><circle cx="385.27" cy="139.51" r="1.4"/><circle cx="383.74" cy="145.13" r="1.4"/><circle cx="380.19" cy="150.45" r="1.4"/><circle cx="374.75" cy="155.22" r="1.4"/><circle cx="367.66" cy="159.2" r="1.4"/><circle cx="359.19" cy="162.19" r="1.4"/><circle cx="349.68" cy="164.05" r="1.4"/><circle cx="339.51" cy="164.65" r="1.4"/><circle cx="329.08" cy="163.94" r="1.4"/><circle cx="318.82" cy="161.91" r="1.4"/><circle cx="309.12" cy="158.59" r="1.4"/><circle cx="300.38" cy="154.09" r="1.4"/><circle cx="292.94" cy="148.53" r="1.4"/><circle cx="287.11" cy="142.12" r="1.4"/><circle cx="283.1" cy="135.05" r="1.4"/><circle cx="281.1" cy="127.59" r="1.4"/><circle cx="281.16" cy="119.97" r="1.4"/><circle cx="283.29" cy="112.48" r="1.4"/><circle cx="287.42" cy="105.37" r="1.4"/><circle cx="293.36" cy="98.89" r="1.4"/><circle cx="300.88" cy="93.25" r="1.4"/><circle cx="309.69" cy="88.64" r="1.4"/><circle cx="319.44" cy="85.21" r="1.4"/><circle cx="329.73" cy="83.06" r="1.4"/><circle cx="340.15" cy="82.23" r="1.4"/><circle cx="350.29" cy="82.72" r="1.4"/><circle cx="359.75" cy="84.46" r="1.4"/><circle cx="368.14" cy="87.36" r="1.4"/><circle cx="375.14" cy="91.26" r="1.4"/><circle cx="380.46" cy="95.96" r="1.4"/><circle cx="383.89" cy="101.24" r="1.4"/><circle cx="385.3" cy="106.85" r="1.4"/><circle cx="384.63" cy="112.53" r="1.4"/><circle cx="381.9" cy="118" r="1.4"/><circle cx="377.23" cy="123.03" r="1.4"/><circle cx="370.8" cy="127.36" r="1.4"/><circle cx="362.86" cy="130.79" r="1.4"/><circle cx="353.74" cy="133.13" r="1.4"/><circle cx="343.8" cy="134.27" r="1.4"/><circle cx="333.42" cy="134.11" r="1.4"/><circle cx="323.04" cy="132.63" r="1.4"/><circle cx="313.06" cy="129.83" r="1.4"/><circle cx="303.87" cy="125.81" r="1.4"/><circle cx="295.86" cy="120.67" r="1.4"/><circle cx="289.32" cy="114.59" r="1.4"/><circle cx="284.53" cy="107.77" r="1.4"/><circle cx="281.68" cy="100.43" r="1.4"/><circle cx="280.88" cy="92.85" r="1.4"/><circle cx="282.16" cy="85.28" r="1.4"/><circle cx="285.47" cy="77.98" r="1.4"/><circle cx="290.68" cy="71.2" r="1.4"/><circle cx="297.58" cy="65.19" r="1.4"/><circle cx="305.9" cy="60.13" r="1.4"/><circle cx="315.3" cy="56.2" r="1.4"/><circle cx="325.41" cy="53.51" r="1.4"/><circle cx="335.82" cy="52.12" r="1.4"/><circle cx="346.13" cy="52.07" r="1.4"/><circle cx="355.92" cy="53.3" r="1.4"/><circle cx="364.8" cy="55.74" r="1.4"/><circle cx="372.42" cy="59.24" r="1.4"/><circle cx="378.47" cy="63.63" r="1.4"/><circle cx="382.71" cy="68.7" r="1.4"/><circle cx="384.97" cy="74.2" r="1.4"/><circle cx="385.16" cy="79.88" r="1.4"/><circle cx="383.28" cy="85.48" r="1.4"/><circle cx="379.4" cy="90.72" r="1.4"/><circle cx="373.67" cy="95.37" r="1.4"/><circle cx="366.33" cy="99.19" r="1.4"/><circle cx="357.66" cy="102.01" r="1.4"/><circle cx="348.01" cy="103.66" r="1.4"/><circle cx="337.76" cy="104.05" r="1.4"/><circle cx="327.33" cy="103.11" r="1.4"/><circle cx="317.14" cy="100.86" r="1.4"/><circle cx="307.57" cy="97.33" r="1.4"/><circle cx="299.03" cy="92.64" r="1.4"/><circle cx="291.84" cy="86.93" r="1.4"/><circle cx="286.3" cy="80.39" r="1.4"/><circle cx="282.62" cy="73.24" r="1.4"/><circle cx="280.96" cy="65.73" r="1.4"/><circle cx="281.38" cy="58.12" r="1.4"/><circle cx="283.85" cy="50.67" r="1.4"/><circle cx="288.29" cy="43.65" r="1.4"/><circle cx="294.52" cy="37.29" r="1.4"/><circle cx="302.28" cy="31.82" r="1.4"/><circle cx="311.28" cy="27.4" r="1.4"/><circle cx="321.14" cy="24.18" r="1.4"/><circle cx="331.48" cy="22.25" r="1.4"/><circle cx="341.89" cy="21.64" r="1.4"/><circle cx="351.94" cy="22.34" r="1.4"/><circle cx="361.24" cy="24.29" r="1.4"/>
</g>
<text x="254.8" y="162.2" text-anchor="end" font-size="7.9" stroke-width="0.1" >-100</text>
<text x="254.8" y="142.9" text-anchor="end" font-size="7.9" stroke-width="0.1" >0</text>
<text x="254.8" y="123.6" text-anchor="end" font-size="7.9" stroke-width="0.1" >100</text>
<text x="254.8" y="104.3" text-anchor="end" font-size="7.9" stroke-width="0.1" >200</text>
<text x="254.8" y="85" text-anchor="end" font-size="7.9" stroke-width="0.1" >300</text>
<text x="254.8" y="65.7" text-anchor="end" font-size="7.9" stroke-width="0.1" >400</text>
<text x="254.8" y="46.4" text-anchor="end" font-size="7.9" stroke-width="0.1" >500</text>
<text x="254.8" y="172.6" text-anchor="end" font-size="7.9" stroke-width="0.1" >5</text>
<text x="286.5" y="199.4" text-anchor="end" font-size="7.9" stroke-width="0.1" >0</text>
<text x="318.3" y="225.2" text-anchor="end" font-size="7.9" stroke-width="0.1" >-5</text>
<text x="327.5" y="226.6" text-anchor="start" font-size="7.9" stroke-width="0.1" >-1</text>
<text x="368.9" y="206.2" text-anchor="start" font-size="7.9" stroke-width="0.1" >0</text>
<text x="410.7" y="185.8" text-anchor="start" font-size="7.9" stroke-width="0.1" >1</text>
<text class="s" x="234" y="105" text-anchor="middle" font-size="8.6" fill="#555" transform="rotate(-90 234 105)"><tspan font-style="italic">ξ</tspan><tspan font-style="italic" font-size="5.85" dy="1.6">z</tspan><tspan dy="-1.6"> (m)</tspan></text>
<text class="s" x="277.2" y="222" text-anchor="middle" font-size="8.6" fill="#555"><tspan font-style="italic">ξ</tspan><tspan font-style="italic" font-size="5.85" dy="1.6">y</tspan><tspan dy="-1.6">(m)</tspan></text>
<text class="s" x="373.8" y="224.5" text-anchor="middle" font-size="8.6" fill="#555"><tspan font-style="italic">ξ</tspan><tspan font-style="italic" font-size="5.85" dy="1.6">x</tspan><tspan dy="-1.6">(m)</tspan></text>
<text class="s" x="226.4" y="257" text-anchor="middle" font-size="9" textLength="10.2" lengthAdjust="spacingAndGlyphs" fill="#1a1a1a">(a)</text>
<text class="s" x="226.6" y="542.6" text-anchor="middle" font-size="9" textLength="10.8" lengthAdjust="spacingAndGlyphs" fill="#1a1a1a">(b)</text>
<path d="M69.06 274.3V372.8 M104.72 274.3V372.8 M140.38 274.3V372.8 M176.04 274.3V372.8 M33.4 353.1H211.7 M33.4 333.4H211.7 M33.4 313.7H211.7 M33.4 294H211.7" fill="none" stroke="#ebebeb" stroke-width="0.7"/>
<path d="M33.4 372.8 L48.37 366.18 L69.62 356.79 L95.04 345.56 L122.55 333.4 L150.06 321.24 L175.48 310.01 L196.73 300.62 L211.7 294" fill="none" stroke="#111" stroke-width="1.5" stroke-dasharray="5 1.6 1.2 1.6" stroke-linejoin="round"/>
<path d="M33.4 372.8 L34.78 372.19 L36.6 371.39 L38.78 370.43 L41.2 369.36 L43.76 368.24 L46.35 367.09 L48.88 365.97 L51.23 364.92 L53.51 363.89 L55.85 362.82 L58.23 361.73 L60.59 360.65 L62.9 359.59 L65.1 358.59 L67.17 357.67 L69.06 356.84 L70.73 356.15 L72.19 355.56 L73.52 355.06 L74.74 354.61 L75.93 354.19 L77.13 353.74 L78.38 353.26 L79.76 352.71 L81.23 352.09 L82.75 351.44 L84.31 350.76 L85.89 350.07 L87.48 349.36 L89.08 348.64 L90.67 347.92 L92.24 347.19 L93.76 346.46 L95.23 345.74 L96.68 345 L98.15 344.26 L99.65 343.5 L101.22 342.72 L102.9 341.92 L104.72 341.08 L106.69 340.22 L108.8 339.32 L111.01 338.4 L113.3 337.46 L115.63 336.51 L117.97 335.54 L120.28 334.57 L122.55 333.6 L124.66 332.67 L126.59 331.8 L128.45 330.95 L130.35 330.08 L132.39 329.14 L134.67 328.09 L137.3 326.9 L140.38 325.52 L143.98 323.92 L148.04 322.12 L152.45 320.17 L157.1 318.12 L161.88 316.01 L166.71 313.88 L171.46 311.78 L176.04 309.76 L180.74 307.68 L185.79 305.45 L190.98 303.16 L196.1 300.89 L200.94 298.76 L205.29 296.83 L208.95 295.22 L211.7 294" fill="none" stroke="#D95319" stroke-width="1.6" stroke-linejoin="round"/>
<path d="M33.4 373.04 L34.78 372.44 L36.6 371.65 L38.78 370.71 L41.2 369.66 L43.76 368.55 L46.35 367.43 L48.88 366.33 L51.23 365.31 L53.51 364.33 L55.85 363.3 L58.23 362.27 L60.59 361.24 L62.9 360.24 L65.1 359.28 L67.17 358.39 L69.06 357.59 L70.73 356.9 L72.19 356.3 L73.52 355.77 L74.74 355.29 L75.93 354.82 L77.13 354.34 L78.38 353.83 L79.76 353.26 L81.23 352.63 L82.75 351.97 L84.31 351.3 L85.89 350.6 L87.48 349.9 L89.08 349.18 L90.67 348.46 L92.24 347.74 L93.76 347.03 L95.23 346.32 L96.68 345.61 L98.15 344.89 L99.65 344.16 L101.22 343.39 L102.9 342.6 L104.72 341.75 L106.69 340.86 L108.8 339.92 L111.01 338.94 L113.3 337.94 L115.63 336.92 L117.97 335.9 L120.28 334.88 L122.55 333.87 L124.66 332.93 L126.59 332.06 L128.45 331.21 L130.35 330.35 L132.39 329.43 L134.67 328.4 L137.3 327.21 L140.38 325.84 L143.98 324.23 L148.04 322.42 L152.45 320.46 L157.1 318.4 L161.88 316.27 L166.71 314.13 L171.46 312.03 L176.04 310 L180.74 307.91 L185.79 305.68 L190.98 303.39 L196.1 301.13 L200.94 298.99 L205.29 297.07 L208.95 295.45 L211.7 294.24" fill="none" stroke="#1477C9" stroke-width="1.6" stroke-dasharray="5.5 3.4" stroke-linejoin="round"/>
<text x="33.4" y="381.9" text-anchor="middle" font-size="7.9" stroke-width="0.1" >0</text>
<text x="69.06" y="381.9" text-anchor="middle" font-size="7.9" stroke-width="0.1" >2</text>
<text x="104.72" y="381.9" text-anchor="middle" font-size="7.9" stroke-width="0.1" >4</text>
<text x="140.38" y="381.9" text-anchor="middle" font-size="7.9" stroke-width="0.1" >6</text>
<text x="176.04" y="381.9" text-anchor="middle" font-size="7.9" stroke-width="0.1" >8</text>
<text x="211.7" y="381.9" text-anchor="middle" font-size="7.9" stroke-width="0.1" >10</text>
<text x="30.8" y="375.7" text-anchor="end" font-size="7.9" stroke-width="0.1" >0</text>
<text x="30.8" y="356" text-anchor="end" font-size="7.9" stroke-width="0.1" >50</text>
<text x="30.8" y="336.3" text-anchor="end" font-size="7.9" stroke-width="0.1" >100</text>
<text x="30.8" y="316.6" text-anchor="end" font-size="7.9" stroke-width="0.1" >150</text>
<text x="30.8" y="296.9" text-anchor="end" font-size="7.9" stroke-width="0.1" >200</text>
<text x="30.8" y="277.2" text-anchor="end" font-size="7.9" stroke-width="0.1" >250</text>
<path d="M33.4 372.8v-1.8M33.4 274.3v1.8 M69.06 372.8v-1.8M69.06 274.3v1.8 M104.72 372.8v-1.8M104.72 274.3v1.8 M140.38 372.8v-1.8M140.38 274.3v1.8 M176.04 372.8v-1.8M176.04 274.3v1.8 M211.7 372.8v-1.8M211.7 274.3v1.8 M33.4 372.8h1.8M211.7 372.8h-1.8 M33.4 353.1h1.8M211.7 353.1h-1.8 M33.4 333.4h1.8M211.7 333.4h-1.8 M33.4 313.7h1.8M211.7 313.7h-1.8 M33.4 294h1.8M211.7 294h-1.8 M33.4 274.3h1.8M211.7 274.3h-1.8" fill="none" stroke="#666" stroke-width="0.6"/>
<rect x="33.4" y="274.3" width="178.3" height="98.5" fill="none" stroke="#606060" stroke-width="0.62"/>
<text class="s" x="122.55" y="390.7" text-anchor="middle" font-size="8.2" textLength="29" lengthAdjust="spacingAndGlyphs" fill="#222">Time (s)</text>
<text class="s" x="13.2" y="324" text-anchor="middle" font-size="8.6" fill="#333" transform="rotate(-90 13.2 324)"><tspan font-style="italic">ξ</tspan><tspan font-style="italic" font-size="5.85" dy="1.6">z</tspan><tspan dy="-1.6">(m)</tspan></text>
<rect x="38.2" y="278" width="93.4" height="27.2" fill="#fff" stroke="#555" stroke-width="0.6"/>
<path d="M40.2 283.2H57.3" stroke="#222" stroke-width="1.2" stroke-dasharray="5 1.6 1.2 1.6" fill="none"/>
<path d="M40.2 291.6H57.3" stroke="#D95319" stroke-width="1.3" fill="none"/>
<path d="M40.2 300.3H57.3" stroke="#1477C9" stroke-width="1.3" stroke-dasharray="4.8 4.4" fill="none"/>
<text class="s" x="59" y="285.9" text-anchor="start" font-size="8.2" textLength="12.6" lengthAdjust="spacingAndGlyphs" fill="#222" font-weight="bold">Ref</text>
<text class="s" x="59" y="294.3" text-anchor="start" font-size="8.2" textLength="71" lengthAdjust="spacingAndGlyphs" fill="#222" font-weight="bold">Presented technique</text>
<text class="s" x="59" y="303" text-anchor="start" font-size="8.2" textLength="38.5" lengthAdjust="spacingAndGlyphs" fill="#222" font-weight="bold">MPC-CFC</text>
<path d="M303.34 274.3V372.8 M338.98 274.3V372.8 M374.62 274.3V372.8 M410.26 274.3V372.8 M267.7 323.55H445.9" fill="none" stroke="#ebebeb" stroke-width="0.7"/>
<path d="M267.7 342.22 L268.15 341.57 L268.75 340.68 L269.46 339.62 L270.25 338.45 L271.09 337.23 L271.92 336.04 L272.71 334.92 L273.43 333.95 L274.09 333.1 L274.73 332.3 L275.36 331.54 L275.97 330.82 L276.58 330.13 L277.19 329.46 L277.8 328.82 L278.42 328.19 L279.04 327.59 L279.66 327.03 L280.29 326.51 L280.91 326.01 L281.53 325.51 L282.16 325.01 L282.78 324.48 L283.4 323.93 L284.02 323.33 L284.65 322.7 L285.27 322.05 L285.89 321.39 L286.52 320.73 L287.14 320.1 L287.76 319.48 L288.39 318.91 L289.01 318.37 L289.63 317.86 L290.26 317.36 L290.88 316.88 L291.5 316.42 L292.12 315.98 L292.75 315.56 L293.37 315.15 L293.99 314.77 L294.62 314.39 L295.24 314.03 L295.86 313.7 L296.49 313.39 L297.11 313.1 L297.73 312.86 L298.36 312.65 L298.98 312.48 L299.6 312.36 L300.22 312.27 L300.85 312.21 L301.47 312.17 L302.09 312.15 L302.72 312.15 L303.34 312.15 L303.96 312.17 L304.59 312.22 L305.21 312.29 L305.83 312.38 L306.46 312.47 L307.08 312.55 L307.7 312.61 L308.32 312.65 L308.95 312.66 L309.57 312.66 L310.19 312.65 L310.82 312.63 L311.44 312.6 L312.06 312.55 L312.69 312.48 L313.31 312.4 L313.94 312.28 L314.58 312.13 L315.23 311.96 L315.88 311.77 L316.52 311.58 L317.14 311.41 L317.73 311.26 L318.29 311.14 L318.82 311.05 L319.32 310.96 L319.79 310.89 L320.24 310.83 L320.69 310.8 L321.13 310.79 L321.57 310.82 L322.03 310.89 L322.5 311 L322.97 311.14 L323.43 311.32 L323.9 311.52 L324.37 311.75 L324.84 312.02 L325.3 312.32 L325.77 312.65 L326.24 313.02 L326.71 313.43 L327.17 313.89 L327.64 314.37 L328.11 314.87 L328.57 315.38 L329.04 315.9 L329.51 316.41 L329.98 316.92 L330.44 317.46 L330.91 318.01 L331.38 318.57 L331.85 319.12 L332.31 319.66 L332.78 320.18 L333.25 320.67 L333.71 321.12 L334.18 321.54 L334.64 321.94 L335.1 322.33 L335.57 322.71 L336.03 323.1 L336.51 323.5 L336.99 323.93 L337.47 324.39 L337.94 324.88 L338.42 325.4 L338.9 325.92 L339.39 326.42 L339.9 326.89 L340.43 327.32 L340.97 327.69 L341.54 327.98 L342.12 328.23 L342.72 328.43 L343.33 328.59 L343.95 328.74 L344.6 328.88 L345.27 329.03 L345.96 329.19 L346.68 329.36 L347.43 329.54 L348.2 329.72 L349 329.89 L349.8 330.06 L350.6 330.21 L351.4 330.34 L352.19 330.44 L352.98 330.54 L353.78 330.62 L354.58 330.7 L355.38 330.76 L356.17 330.79 L356.95 330.79 L357.7 330.76 L358.42 330.69 L359.1 330.58 L359.75 330.44 L360.38 330.27 L360.99 330.07 L361.59 329.83 L362.19 329.57 L362.79 329.27 L363.4 328.94 L364.03 328.56 L364.65 328.14 L365.27 327.68 L365.9 327.18 L366.52 326.68 L367.14 326.17 L367.77 325.66 L368.39 325.18 L369.01 324.7 L369.64 324.21 L370.26 323.71 L370.88 323.22 L371.5 322.74 L372.13 322.27 L372.75 321.83 L373.37 321.42 L373.98 321.04 L374.56 320.69 L375.13 320.37 L375.71 320.06 L376.31 319.76 L376.94 319.48 L377.62 319.19 L378.36 318.91 L379.17 318.64 L380.05 318.36 L380.98 318.1 L381.94 317.85 L382.92 317.6 L383.91 317.36 L384.88 317.13 L385.84 316.91 L386.77 316.69 L387.7 316.48 L388.64 316.27 L389.57 316.08 L390.51 315.89 L391.44 315.72 L392.38 315.55 L393.31 315.4 L394.25 315.27 L395.18 315.16 L396.12 315.06 L397.05 314.97 L397.99 314.88 L398.92 314.81 L399.85 314.73 L400.79 314.65 L401.72 314.57 L402.66 314.49 L403.59 314.41 L404.53 314.34 L405.46 314.27 L406.4 314.22 L407.33 314.18 L408.27 314.15 L409.2 314.14 L410.14 314.16 L411.07 314.18 L412 314.21 L412.94 314.26 L413.87 314.3 L414.81 314.35 L415.74 314.4 L416.68 314.45 L417.61 314.5 L418.55 314.56 L419.48 314.62 L420.42 314.69 L421.35 314.75 L422.29 314.83 L423.22 314.9 L424.15 314.98 L425.09 315.06 L426.02 315.13 L426.96 315.22 L427.89 315.31 L428.83 315.41 L429.76 315.52 L430.7 315.65 L431.65 315.81 L432.62 315.98 L433.61 316.17 L434.59 316.38 L435.55 316.58 L436.48 316.78 L437.36 316.98 L438.17 317.16 L438.93 317.32 L439.65 317.45 L440.32 317.58 L440.96 317.71 L441.56 317.84 L442.13 318 L442.66 318.19 L443.16 318.41 L443.63 318.7 L444.07 319.06 L444.47 319.46 L444.84 319.87 L445.17 320.27 L445.46 320.64 L445.7 320.95 L445.9 321.17" fill="none" stroke="#1477C9" stroke-width="1.5" stroke-dasharray="5.2 3.2" stroke-linejoin="round"/>
<path d="M267.7 342.22 L268.15 341.67 L268.75 340.93 L269.46 340.04 L270.25 339.06 L271.09 338.03 L271.92 337.02 L272.71 336.06 L273.43 335.2 L274.08 334.43 L274.7 333.67 L275.3 332.93 L275.89 332.21 L276.49 331.53 L277.1 330.88 L277.74 330.26 L278.42 329.69 L279.14 329.17 L279.89 328.71 L280.66 328.29 L281.45 327.9 L282.26 327.54 L283.06 327.18 L283.86 326.81 L284.65 326.43 L285.44 326.04 L286.26 325.65 L287.09 325.25 L287.92 324.87 L288.72 324.49 L289.5 324.12 L290.22 323.76 L290.88 323.42 L291.46 323.1 L291.98 322.78 L292.44 322.48 L292.87 322.19 L293.29 321.91 L293.71 321.64 L294.14 321.4 L294.62 321.17 L295.12 320.95 L295.64 320.74 L296.16 320.54 L296.69 320.35 L297.22 320.19 L297.77 320.06 L298.31 319.97 L298.85 319.92 L299.4 319.9 L299.95 319.92 L300.5 319.97 L301.05 320.06 L301.61 320.17 L302.18 320.31 L302.75 320.48 L303.34 320.67 L303.94 320.9 L304.55 321.19 L305.17 321.51 L305.8 321.86 L306.43 322.21 L307.07 322.56 L307.7 322.88 L308.32 323.17 L308.94 323.44 L309.54 323.69 L310.14 323.94 L310.74 324.18 L311.35 324.4 L311.98 324.6 L312.63 324.77 L313.31 324.93 L314.03 325.06 L314.78 325.17 L315.55 325.26 L316.35 325.34 L317.15 325.39 L317.95 325.42 L318.75 325.44 L319.54 325.43 L320.32 325.41 L321.1 325.39 L321.88 325.35 L322.66 325.29 L323.43 325.2 L324.21 325.07 L324.99 324.9 L325.77 324.68 L326.55 324.39 L327.33 324.02 L328.11 323.61 L328.89 323.16 L329.66 322.7 L330.44 322.24 L331.22 321.81 L332 321.42 L332.8 321.06 L333.64 320.69 L334.49 320.34 L335.33 319.99 L336.15 319.67 L336.92 319.38 L337.62 319.13 L338.23 318.91 L338.73 318.74 L339.11 318.61 L339.42 318.5 L339.68 318.43 L339.93 318.38 L340.21 318.37 L340.55 318.38 L340.97 318.41 L341.48 318.47 L342.03 318.56 L342.62 318.68 L343.25 318.82 L343.9 318.99 L344.57 319.19 L345.26 319.41 L345.96 319.67 L346.68 319.96 L347.43 320.31 L348.2 320.69 L349 321.09 L349.8 321.5 L350.6 321.91 L351.4 322.31 L352.19 322.67 L352.97 323.02 L353.75 323.36 L354.53 323.7 L355.3 324.04 L356.08 324.35 L356.86 324.65 L357.64 324.93 L358.42 325.18 L359.2 325.41 L359.98 325.62 L360.76 325.82 L361.54 325.99 L362.31 326.15 L363.09 326.27 L363.87 326.37 L364.65 326.43 L365.42 326.46 L366.18 326.45 L366.93 326.41 L367.69 326.34 L368.45 326.25 L369.24 326.15 L370.04 326.04 L370.88 325.93 L371.76 325.81 L372.66 325.66 L373.59 325.51 L374.54 325.34 L375.5 325.16 L376.46 324.99 L377.42 324.83 L378.36 324.68 L379.29 324.54 L380.23 324.41 L381.16 324.28 L382.1 324.16 L383.03 324.04 L383.97 323.92 L384.9 323.8 L385.84 323.68 L386.77 323.55 L387.7 323.44 L388.64 323.32 L389.57 323.21 L390.51 323.09 L391.44 322.96 L392.38 322.82 L393.31 322.67 L394.25 322.51 L395.18 322.33 L396.12 322.13 L397.05 321.94 L397.99 321.74 L398.92 321.54 L399.85 321.35 L400.79 321.17 L401.72 320.99 L402.66 320.8 L403.59 320.6 L404.53 320.42 L405.46 320.25 L406.4 320.1 L407.33 319.99 L408.27 319.92 L409.2 319.9 L410.14 319.92 L411.07 319.99 L412 320.07 L412.94 320.17 L413.87 320.27 L414.81 320.35 L415.74 320.42 L416.68 320.46 L417.61 320.49 L418.55 320.52 L419.48 320.54 L420.42 320.57 L421.35 320.59 L422.29 320.63 L423.22 320.67 L424.15 320.72 L425.09 320.78 L426.02 320.84 L426.96 320.9 L427.89 320.97 L428.83 321.04 L429.76 321.1 L430.7 321.17 L431.63 321.22 L432.56 321.26 L433.49 321.29 L434.42 321.33 L435.35 321.37 L436.29 321.44 L437.23 321.54 L438.17 321.67 L439.18 321.86 L440.27 322.11 L441.39 322.4 L442.5 322.7 L443.56 323 L444.51 323.28 L445.3 323.51 L445.9 323.68" fill="none" stroke="#D95319" stroke-width="1.5" stroke-linejoin="round"/>
<path d="M267.7 323.55 L282.67 323.55 L303.9 323.55 L329.3 323.55 L356.8 323.55 L384.3 323.55 L409.7 323.55 L430.93 323.55 L445.9 323.55" fill="none" stroke="#1a1a1a" stroke-width="1.7" stroke-dasharray="5 1.6 1.2 1.6" stroke-linejoin="round"/>
<text x="267.7" y="381.9" text-anchor="middle" font-size="7.9" stroke-width="0.1" >0</text>
<text x="303.34" y="381.9" text-anchor="middle" font-size="7.9" stroke-width="0.1" >2</text>
<text x="338.98" y="381.9" text-anchor="middle" font-size="7.9" stroke-width="0.1" >4</text>
<text x="374.62" y="381.9" text-anchor="middle" font-size="7.9" stroke-width="0.1" >6</text>
<text x="410.26" y="381.9" text-anchor="middle" font-size="7.9" stroke-width="0.1" >8</text>
<text x="445.9" y="381.9" text-anchor="middle" font-size="7.9" stroke-width="0.1" >10</text>
<text x="265.1" y="375.7" text-anchor="end" font-size="7.9" stroke-width="0.1" >4.5</text>
<text x="265.1" y="326.45" text-anchor="end" font-size="7.9" stroke-width="0.1" >5</text>
<text x="265.1" y="277.2" text-anchor="end" font-size="7.9" stroke-width="0.1" >5.5</text>
<path d="M267.7 372.8v-1.8M267.7 274.3v1.8 M303.34 372.8v-1.8M303.34 274.3v1.8 M338.98 372.8v-1.8M338.98 274.3v1.8 M374.62 372.8v-1.8M374.62 274.3v1.8 M410.26 372.8v-1.8M410.26 274.3v1.8 M445.9 372.8v-1.8M445.9 274.3v1.8 M267.7 372.8h1.8M445.9 372.8h-1.8 M267.7 323.55h1.8M445.9 323.55h-1.8 M267.7 274.3h1.8M445.9 274.3h-1.8" fill="none" stroke="#666" stroke-width="0.6"/>
<rect x="267.7" y="274.3" width="178.2" height="98.5" fill="none" stroke="#606060" stroke-width="0.62"/>
<text class="s" x="356.8" y="390.7" text-anchor="middle" font-size="8.2" textLength="29" lengthAdjust="spacingAndGlyphs" fill="#222">Time (s)</text>
<text x="248.6" y="323.4" text-anchor="middle" font-size="7.8" fill="#444" transform="rotate(-90 248.6 323.4)">θ(°)</text>
<path d="M69.06 410.8V509.5 M104.72 410.8V509.5 M140.38 410.8V509.5 M176.04 410.8V509.5 M33.4 484.82H211.7 M33.4 460.15H211.7 M33.4 435.48H211.7" fill="none" stroke="#ebebeb" stroke-width="0.7"/>
<path d="M33.4 460.15 L48.37 460.15 L69.62 460.15 L95.04 460.15 L122.55 460.15 L150.06 460.15 L175.48 460.15 L196.73 460.15 L211.7 460.15" fill="none" stroke="#1a1a1a" stroke-width="1.8" stroke-dasharray="5 1.6 1.2 1.6" stroke-linejoin="round"/>
<path d="M33.4 484.64 L33.53 484.04 L33.7 483.26 L33.89 482.33 L34.12 481.29 L34.36 480.17 L34.62 478.99 L34.88 477.79 L35.15 476.6 L35.42 475.37 L35.72 474.06 L36.03 472.69 L36.35 471.28 L36.67 469.86 L37 468.46 L37.32 467.1 L37.64 465.8 L37.94 464.51 L38.23 463.19 L38.52 461.86 L38.81 460.57 L39.11 459.36 L39.42 458.25 L39.76 457.29 L40.13 456.51 L40.53 455.94 L40.95 455.57 L41.39 455.34 L41.85 455.22 L42.32 455.17 L42.82 455.14 L43.34 455.1 L43.87 455 L44.45 454.86 L45.06 454.71 L45.71 454.56 L46.37 454.44 L47.03 454.33 L47.67 454.26 L48.29 454.23 L48.86 454.25 L49.39 454.31 L49.88 454.41 L50.36 454.54 L50.81 454.7 L51.25 454.91 L51.7 455.15 L52.14 455.43 L52.6 455.75 L53.06 456.16 L53.51 456.65 L53.95 457.21 L54.39 457.8 L54.85 458.38 L55.32 458.92 L55.81 459.4 L56.34 459.77 L56.9 460.05 L57.47 460.25 L58.07 460.39 L58.68 460.5 L59.31 460.57 L59.97 460.63 L60.64 460.7 L61.33 460.78 L62.04 460.87 L62.77 460.95 L63.52 461.03 L64.29 461.09 L65.08 461.15 L65.89 461.2 L66.72 461.24 L67.56 461.28 L68.42 461.31 L69.29 461.32 L70.17 461.33 L71.07 461.33 L72 461.32 L72.97 461.31 L73.98 461.3 L75.04 461.28 L76.17 461.26 L77.36 461.25 L78.6 461.23 L79.88 461.2 L81.17 461.17 L82.47 461.13 L83.76 461.09 L85.02 461.03 L86.3 460.96 L87.63 460.88 L88.98 460.79 L90.32 460.7 L91.62 460.6 L92.85 460.49 L93.99 460.39 L94.99 460.28 L95.84 460.16 L96.53 460.03 L97.12 459.9 L97.64 459.76 L98.15 459.62 L98.68 459.49 L99.27 459.37 L99.98 459.27 L100.8 459.18 L101.69 459.1 L102.64 459.02 L103.61 458.96 L104.6 458.9 L105.59 458.85 L106.55 458.8 L107.46 458.77 L108.32 458.75 L109.12 458.74 L109.9 458.74 L110.67 458.75 L111.47 458.77 L112.3 458.77 L113.2 458.78 L114.2 458.77 L115.29 458.75 L116.46 458.71 L117.7 458.67 L118.98 458.63 L120.29 458.59 L121.6 458.55 L122.9 458.53 L124.17 458.52 L125.45 458.52 L126.78 458.53 L128.13 458.54 L129.47 458.56 L130.77 458.6 L132 458.64 L133.14 458.7 L134.15 458.77 L135.01 458.86 L135.74 458.97 L136.38 459.1 L136.95 459.24 L137.48 459.38 L138 459.52 L138.54 459.65 L139.13 459.77 L139.74 459.89 L140.32 460 L140.89 460.12 L141.47 460.23 L142.07 460.33 L142.7 460.41 L143.38 460.48 L144.12 460.53 L144.9 460.54 L145.7 460.53 L146.52 460.51 L147.39 460.46 L148.32 460.41 L149.32 460.36 L150.41 460.31 L151.6 460.28 L152.68 460.24 L153.56 460.21 L154.39 460.18 L155.36 460.15 L156.64 460.12 L158.4 460.09 L160.82 460.06 L164.07 460.02 L168.63 459.99 L174.52 459.96 L181.28 459.92 L188.42 459.88 L195.46 459.85 L201.92 459.82 L207.33 459.79 L211.2 459.77" fill="none" stroke="#D95319" stroke-width="1.5" stroke-linejoin="round"/>
<path d="M33.4 484.64 L33.53 484.04 L33.7 483.26 L33.89 482.33 L34.12 481.29 L34.36 480.17 L34.62 478.99 L34.88 477.79 L35.15 476.6 L35.42 475.37 L35.72 474.06 L36.03 472.69 L36.35 471.28 L36.67 469.86 L37 468.46 L37.32 467.1 L37.64 465.8 L37.93 464.52 L38.18 463.2 L38.41 461.89 L38.65 460.61 L38.92 459.39 L39.25 458.28 L39.64 457.31 L40.13 456.51 L40.75 455.89 L41.49 455.44 L42.31 455.12 L43.17 454.91 L44.05 454.77 L44.9 454.67 L45.68 454.59 L46.37 454.5 L46.95 454.42 L47.45 454.39 L47.9 454.39 L48.32 454.44 L48.72 454.5 L49.14 454.58 L49.6 454.67 L50.11 454.75 L50.65 454.84 L51.21 454.96 L51.78 455.09 L52.37 455.24 L52.99 455.38 L53.64 455.52 L54.34 455.65 L55.1 455.75 L55.91 455.84 L56.79 455.91 L57.72 455.97 L58.68 456.02 L59.66 456.07 L60.65 456.13 L61.62 456.19 L62.58 456.26 L63.53 456.34 L64.51 456.42 L65.49 456.5 L66.47 456.59 L67.43 456.68 L68.36 456.78 L69.24 456.89 L70.06 457.01 L70.8 457.15 L71.48 457.3 L72.11 457.46 L72.71 457.62 L73.28 457.79 L73.86 457.96 L74.44 458.12 L75.04 458.27 L75.66 458.4 L76.26 458.54 L76.86 458.66 L77.46 458.78 L78.07 458.91 L78.7 459.03 L79.35 459.15 L80.03 459.27 L80.75 459.4 L81.5 459.53 L82.28 459.66 L83.07 459.79 L83.87 459.92 L84.68 460.04 L85.48 460.16 L86.27 460.28 L87.04 460.38 L87.8 460.49 L88.55 460.59 L89.31 460.68 L90.07 460.78 L90.85 460.86 L91.66 460.95 L92.5 461.03 L93.38 461.11 L94.28 461.2 L95.21 461.28 L96.16 461.36 L97.12 461.43 L98.08 461.48 L99.04 461.52 L99.98 461.53 L100.92 461.51 L101.87 461.47 L102.82 461.41 L103.77 461.33 L104.71 461.24 L105.65 461.16 L106.56 461.09 L107.46 461.03 L108.32 460.98 L109.12 460.94 L109.9 460.89 L110.67 460.86 L111.47 460.82 L112.3 460.8 L113.2 460.78 L114.2 460.78 L115.29 460.78 L116.46 460.79 L117.7 460.81 L118.98 460.84 L120.29 460.88 L121.6 460.92 L122.9 460.97 L124.17 461.03 L125.43 461.1 L126.72 461.19 L128.02 461.3 L129.31 461.41 L130.59 461.51 L131.83 461.62 L133.02 461.71 L134.15 461.78 L135.22 461.84 L136.25 461.9 L137.24 461.95 L138.2 461.99 L139.11 462.02 L139.99 462.04 L140.83 462.04 L141.63 462.03 L142.37 462.01 L143.05 461.97 L143.68 461.91 L144.28 461.85 L144.85 461.77 L145.43 461.69 L146.01 461.61 L146.61 461.53 L147.19 461.45 L147.69 461.35 L148.16 461.25 L148.64 461.14 L149.18 461.03 L149.83 460.94 L150.62 460.85 L151.6 460.78 L152.57 460.72 L153.38 460.69 L154.21 460.66 L155.2 460.64 L156.53 460.62 L158.34 460.6 L160.8 460.57 L164.07 460.53 L168.63 460.47 L174.52 460.41 L181.28 460.33 L188.42 460.26 L195.46 460.19 L201.92 460.12 L207.33 460.06 L211.2 460.02" fill="none" stroke="#1477C9" stroke-width="1.5" stroke-dasharray="5.2 3.2" stroke-linejoin="round"/>
<text x="33.4" y="518.6" text-anchor="middle" font-size="7.9" stroke-width="0.1" >0</text>
<text x="69.06" y="518.6" text-anchor="middle" font-size="7.9" stroke-width="0.1" >2</text>
<text x="104.72" y="518.6" text-anchor="middle" font-size="7.9" stroke-width="0.1" >4</text>
<text x="140.38" y="518.6" text-anchor="middle" font-size="7.9" stroke-width="0.1" >6</text>
<text x="176.04" y="518.6" text-anchor="middle" font-size="7.9" stroke-width="0.1" >8</text>
<text x="211.7" y="518.6" text-anchor="middle" font-size="7.9" stroke-width="0.1" >10</text>
<text x="30.8" y="512.4" text-anchor="end" font-size="7.9" stroke-width="0.1" >38</text>
<text x="30.8" y="487.72" text-anchor="end" font-size="7.9" stroke-width="0.1" >39</text>
<text x="30.8" y="463.05" text-anchor="end" font-size="7.9" stroke-width="0.1" >40</text>
<text x="30.8" y="438.38" text-anchor="end" font-size="7.9" stroke-width="0.1" >41</text>
<text x="30.8" y="413.7" text-anchor="end" font-size="7.9" stroke-width="0.1" >42</text>
<path d="M33.4 509.5v-1.8M33.4 410.8v1.8 M69.06 509.5v-1.8M69.06 410.8v1.8 M104.72 509.5v-1.8M104.72 410.8v1.8 M140.38 509.5v-1.8M140.38 410.8v1.8 M176.04 509.5v-1.8M176.04 410.8v1.8 M211.7 509.5v-1.8M211.7 410.8v1.8 M33.4 509.5h1.8M211.7 509.5h-1.8 M33.4 484.82h1.8M211.7 484.82h-1.8 M33.4 460.15h1.8M211.7 460.15h-1.8 M33.4 435.48h1.8M211.7 435.48h-1.8 M33.4 410.8h1.8M211.7 410.8h-1.8" fill="none" stroke="#666" stroke-width="0.6"/>
<rect x="33.4" y="410.8" width="178.3" height="98.7" fill="none" stroke="#606060" stroke-width="0.62"/>
<text class="s" x="122.55" y="527.4" text-anchor="middle" font-size="8.2" textLength="29" lengthAdjust="spacingAndGlyphs" fill="#222">Time (s)</text>
<text class="s" x="17.8" y="461.4" text-anchor="middle" font-size="8.6" fill="#333" transform="rotate(-90 17.8 461.4)"><tspan font-style="italic">ξ</tspan><tspan font-style="italic" font-size="5.85" dy="1.6">r</tspan><tspan dy="-1.6">(m)</tspan></text>
<path d="M303.34 410.8V509.5 M338.98 410.8V509.5 M374.62 410.8V509.5 M410.26 410.8V509.5 M267.7 460.15H445.9" fill="none" stroke="#ebebeb" stroke-width="0.7"/>
<path d="M267.7 479.86 L267.95 479.23 L268.27 478.39 L268.66 477.39 L269.09 476.27 L269.55 475.09 L270.02 473.88 L270.49 472.69 L270.94 471.58 L271.38 470.49 L271.84 469.37 L272.31 468.24 L272.78 467.1 L273.25 465.98 L273.73 464.87 L274.21 463.81 L274.68 462.79 L275.15 461.81 L275.61 460.87 L276.08 459.96 L276.55 459.07 L277.01 458.2 L277.48 457.37 L277.95 456.55 L278.42 455.75 L278.88 454.96 L279.32 454.16 L279.76 453.36 L280.21 452.6 L280.66 451.89 L281.13 451.24 L281.63 450.68 L282.16 450.23 L282.71 449.91 L283.28 449.71 L283.88 449.6 L284.49 449.55 L285.12 449.55 L285.78 449.55 L286.45 449.54 L287.14 449.48 L287.86 449.37 L288.61 449.25 L289.39 449.12 L290.18 448.99 L290.98 448.88 L291.78 448.79 L292.58 448.73 L293.37 448.72 L294.16 448.76 L294.96 448.83 L295.76 448.94 L296.56 449.07 L297.36 449.22 L298.13 449.38 L298.88 449.55 L299.6 449.73 L300.28 449.91 L300.94 450.13 L301.56 450.35 L302.17 450.59 L302.77 450.83 L303.37 451.06 L303.97 451.28 L304.59 451.49 L305.21 451.66 L305.83 451.82 L306.46 451.96 L307.08 452.1 L307.7 452.24 L308.32 452.39 L308.95 452.55 L309.57 452.74 L310.2 452.96 L310.85 453.21 L311.49 453.48 L312.14 453.76 L312.78 454.04 L313.4 454.3 L313.99 454.54 L314.56 454.75 L315.07 454.94 L315.55 455.12 L315.99 455.29 L316.42 455.44 L316.86 455.57 L317.3 455.67 L317.78 455.73 L318.29 455.75 L318.85 455.73 L319.42 455.67 L320.02 455.57 L320.63 455.44 L321.26 455.29 L321.92 455.12 L322.59 454.94 L323.28 454.75 L324.01 454.54 L324.78 454.28 L325.58 454 L326.39 453.71 L327.21 453.43 L328.01 453.16 L328.78 452.93 L329.51 452.74 L330.2 452.6 L330.87 452.47 L331.52 452.38 L332.16 452.3 L332.77 452.25 L333.36 452.22 L333.94 452.22 L334.49 452.24 L335.03 452.28 L335.54 452.36 L336.03 452.46 L336.5 452.58 L336.96 452.72 L337.4 452.88 L337.82 453.05 L338.23 453.24 L338.61 453.45 L338.94 453.67 L339.23 453.91 L339.53 454.17 L339.83 454.45 L340.15 454.74 L340.53 455.05 L340.97 455.38 L341.49 455.73 L342.06 456.1 L342.68 456.5 L343.33 456.91 L343.99 457.33 L344.66 457.77 L345.32 458.2 L345.96 458.64 L346.58 459.09 L347.2 459.55 L347.83 460.02 L348.45 460.5 L349.07 460.98 L349.7 461.46 L350.32 461.94 L350.94 462.41 L351.57 462.88 L352.19 463.35 L352.81 463.82 L353.44 464.29 L354.06 464.76 L354.68 465.24 L355.3 465.71 L355.93 466.18 L356.55 466.66 L357.17 467.15 L357.8 467.66 L358.42 468.16 L359.04 468.64 L359.67 469.11 L360.29 469.55 L360.91 469.94 L361.54 470.31 L362.16 470.67 L362.78 471 L363.4 471.31 L364.03 471.59 L364.65 471.83 L365.27 472.04 L365.9 472.2 L366.52 472.32 L367.14 472.39 L367.77 472.43 L368.39 472.42 L369.01 472.4 L369.64 472.35 L370.26 472.28 L370.88 472.2 L371.49 472.12 L372.07 472.02 L372.64 471.9 L373.22 471.77 L373.81 471.6 L374.44 471.42 L375.12 471.2 L375.87 470.95 L376.68 470.66 L377.56 470.33 L378.49 469.97 L379.45 469.58 L380.43 469.18 L381.42 468.77 L382.39 468.35 L383.34 467.94 L384.28 467.52 L385.21 467.09 L386.15 466.64 L387.08 466.19 L388.02 465.74 L388.95 465.29 L389.89 464.85 L390.82 464.42 L391.75 464 L392.69 463.58 L393.62 463.17 L394.56 462.76 L395.49 462.35 L396.43 461.95 L397.36 461.55 L398.3 461.15 L399.23 460.76 L400.17 460.35 L401.1 459.94 L402.04 459.54 L402.97 459.15 L403.9 458.78 L404.84 458.44 L405.77 458.14 L406.71 457.87 L407.64 457.63 L408.58 457.41 L409.51 457.21 L410.45 457.04 L411.38 456.89 L412.32 456.75 L413.25 456.63 L414.19 456.53 L415.12 456.45 L416.05 456.39 L416.99 456.35 L417.92 456.33 L418.86 456.33 L419.79 456.35 L420.73 456.38 L421.66 456.45 L422.6 456.55 L423.53 456.67 L424.47 456.81 L425.4 456.96 L426.34 457.11 L427.27 457.25 L428.2 457.39 L429.12 457.52 L430.01 457.66 L430.89 457.8 L431.77 457.94 L432.68 458.07 L433.62 458.19 L434.62 458.3 L435.68 458.39 L436.9 458.46 L438.28 458.51 L439.76 458.55 L441.26 458.58 L442.7 458.6 L444 458.62 L445.09 458.63 L445.9 458.64" fill="none" stroke="#1477C9" stroke-width="1.5" stroke-dasharray="5.2 3.2" stroke-linejoin="round"/>
<path d="M267.7 479.86 L267.95 479.02 L268.27 477.88 L268.66 476.52 L269.09 475.01 L269.55 473.44 L270.02 471.88 L270.49 470.39 L270.94 469.07 L271.38 467.85 L271.84 466.67 L272.31 465.51 L272.78 464.39 L273.25 463.3 L273.73 462.25 L274.21 461.24 L274.68 460.28 L275.15 459.33 L275.64 458.4 L276.14 457.49 L276.63 456.63 L277.11 455.84 L277.57 455.12 L278.01 454.5 L278.42 454 L278.79 453.63 L279.13 453.38 L279.44 453.24 L279.74 453.18 L280.03 453.17 L280.32 453.2 L280.61 453.23 L280.91 453.24 L281.21 453.25 L281.5 453.28 L281.79 453.34 L282.08 453.42 L282.38 453.52 L282.69 453.65 L283.03 453.81 L283.4 454 L283.81 454.24 L284.25 454.53 L284.71 454.87 L285.19 455.22 L285.68 455.58 L286.18 455.93 L286.66 456.24 L287.14 456.51 L287.6 456.74 L288.05 456.97 L288.49 457.18 L288.93 457.37 L289.39 457.53 L289.86 457.66 L290.35 457.74 L290.88 457.76 L291.43 457.73 L292.01 457.64 L292.6 457.5 L293.21 457.32 L293.85 457.13 L294.5 456.92 L295.17 456.71 L295.86 456.51 L296.59 456.31 L297.36 456.1 L298.16 455.89 L298.98 455.66 L299.79 455.43 L300.59 455.2 L301.37 454.97 L302.09 454.75 L302.79 454.52 L303.49 454.28 L304.16 454.02 L304.82 453.78 L305.45 453.54 L306.04 453.33 L306.58 453.14 L307.08 452.99 L307.5 452.88 L307.85 452.79 L308.14 452.72 L308.4 452.68 L308.65 452.66 L308.92 452.66 L309.22 452.69 L309.57 452.74 L309.98 452.81 L310.42 452.9 L310.88 453.01 L311.36 453.15 L311.85 453.31 L312.35 453.51 L312.83 453.73 L313.31 454 L313.77 454.3 L314.21 454.65 L314.66 455.03 L315.1 455.44 L315.55 455.88 L316.03 456.33 L316.52 456.79 L317.05 457.26 L317.61 457.76 L318.21 458.29 L318.83 458.84 L319.46 459.41 L320.11 459.98 L320.76 460.53 L321.4 461.05 L322.03 461.53 L322.66 461.98 L323.28 462.43 L323.9 462.85 L324.52 463.26 L325.15 463.64 L325.77 463.98 L326.39 464.29 L327.02 464.55 L327.64 464.75 L328.26 464.92 L328.89 465.04 L329.51 465.13 L330.13 465.19 L330.76 465.23 L331.38 465.27 L332 465.3 L332.63 465.32 L333.27 465.32 L333.91 465.29 L334.56 465.26 L335.19 465.21 L335.81 465.16 L336.41 465.1 L336.99 465.05 L337.53 464.99 L338.03 464.92 L338.51 464.84 L338.98 464.76 L339.45 464.68 L339.93 464.59 L340.43 464.51 L340.97 464.42 L341.55 464.34 L342.15 464.28 L342.77 464.22 L343.4 464.16 L344.05 464.08 L344.69 463.98 L345.33 463.85 L345.96 463.67 L346.58 463.44 L347.2 463.16 L347.83 462.85 L348.45 462.52 L349.07 462.17 L349.7 461.82 L350.32 461.48 L350.94 461.15 L351.57 460.83 L352.19 460.5 L352.81 460.17 L353.44 459.84 L354.06 459.51 L354.68 459.2 L355.3 458.91 L355.93 458.64 L356.55 458.39 L357.17 458.14 L357.8 457.91 L358.42 457.69 L359.04 457.49 L359.67 457.33 L360.29 457.21 L360.91 457.14 L361.52 457.12 L362.1 457.15 L362.67 457.23 L363.25 457.34 L363.85 457.47 L364.48 457.61 L365.15 457.76 L365.9 457.89 L366.71 458.02 L367.59 458.17 L368.52 458.33 L369.48 458.5 L370.46 458.67 L371.45 458.84 L372.42 459 L373.37 459.15 L374.33 459.29 L375.3 459.43 L376.29 459.56 L377.27 459.69 L378.23 459.82 L379.16 459.94 L380.04 460.05 L380.85 460.15 L381.59 460.25 L382.27 460.34 L382.9 460.43 L383.5 460.51 L384.08 460.58 L384.65 460.63 L385.23 460.65 L385.84 460.65 L386.46 460.63 L387.08 460.58 L387.7 460.51 L388.33 460.42 L388.95 460.31 L389.57 460.19 L390.2 460.05 L390.82 459.9 L391.43 459.72 L392.01 459.5 L392.58 459.26 L393.16 459 L393.75 458.75 L394.38 458.52 L395.06 458.31 L395.8 458.14 L396.63 458.02 L397.53 457.92 L398.48 457.85 L399.47 457.8 L400.46 457.75 L401.44 457.72 L402.39 457.68 L403.28 457.64 L404.14 457.59 L404.99 457.53 L405.82 457.48 L406.63 457.43 L407.41 457.4 L408.16 457.37 L408.86 457.37 L409.51 457.39 L410.09 457.43 L410.59 457.48 L411.04 457.55 L411.46 457.64 L411.87 457.74 L412.29 457.86 L412.74 457.99 L413.25 458.14 L413.8 458.31 L414.35 458.52 L414.92 458.74 L415.51 458.97 L416.13 459.21 L416.78 459.45 L417.48 459.68 L418.24 459.9 L419.05 460.11 L419.93 460.32 L420.86 460.53 L421.82 460.73 L422.8 460.93 L423.78 461.11 L424.76 461.27 L425.71 461.41 L426.65 461.52 L427.58 461.63 L428.52 461.71 L429.45 461.78 L430.39 461.84 L431.32 461.88 L432.25 461.9 L433.19 461.91 L434.14 461.9 L435.11 461.87 L436.09 461.83 L437.07 461.77 L438.03 461.69 L438.95 461.61 L439.84 461.51 L440.67 461.41 L441.46 461.28 L442.25 461.12 L443.02 460.93 L443.75 460.75 L444.42 460.56 L445.01 460.39 L445.51 460.25 L445.9 460.15" fill="none" stroke="#D95319" stroke-width="1.5" stroke-linejoin="round"/>
<path d="M267.7 460.15 L282.67 460.15 L303.9 460.15 L329.3 460.15 L356.8 460.15 L384.3 460.15 L409.7 460.15 L430.93 460.15 L445.9 460.15" fill="none" stroke="#1a1a1a" stroke-width="1.7" stroke-dasharray="5 1.6 1.2 1.6" stroke-linejoin="round"/>
<text x="267.7" y="518.6" text-anchor="middle" font-size="7.9" stroke-width="0.1" >0</text>
<text x="303.34" y="518.6" text-anchor="middle" font-size="7.9" stroke-width="0.1" >2</text>
<text x="338.98" y="518.6" text-anchor="middle" font-size="7.9" stroke-width="0.1" >4</text>
<text x="374.62" y="518.6" text-anchor="middle" font-size="7.9" stroke-width="0.1" >6</text>
<text x="410.26" y="518.6" text-anchor="middle" font-size="7.9" stroke-width="0.1" >8</text>
<text x="445.9" y="518.6" text-anchor="middle" font-size="7.9" stroke-width="0.1" >10</text>
<text x="265.1" y="512.4" text-anchor="end" font-size="7.9" stroke-width="0.1" >4.5</text>
<text x="265.1" y="463.05" text-anchor="end" font-size="7.9" stroke-width="0.1" >5</text>
<text x="265.1" y="413.7" text-anchor="end" font-size="7.9" stroke-width="0.1" >5.5</text>
<path d="M267.7 509.5v-1.8M267.7 410.8v1.8 M303.34 509.5v-1.8M303.34 410.8v1.8 M338.98 509.5v-1.8M338.98 410.8v1.8 M374.62 509.5v-1.8M374.62 410.8v1.8 M410.26 509.5v-1.8M410.26 410.8v1.8 M445.9 509.5v-1.8M445.9 410.8v1.8 M267.7 509.5h1.8M445.9 509.5h-1.8 M267.7 460.15h1.8M445.9 460.15h-1.8 M267.7 410.8h1.8M445.9 410.8h-1.8" fill="none" stroke="#666" stroke-width="0.6"/>
<rect x="267.7" y="410.8" width="178.2" height="98.7" fill="none" stroke="#606060" stroke-width="0.62"/>
<text class="s" x="356.8" y="527.4" text-anchor="middle" font-size="8.2" textLength="29" lengthAdjust="spacingAndGlyphs" fill="#222">Time (s)</text>
<text x="248.6" y="459.8" text-anchor="middle" font-size="7.8" fill="#444" transform="rotate(-90 248.6 459.8)">α(°)</text>
</g>
</svg>
</body></html>
